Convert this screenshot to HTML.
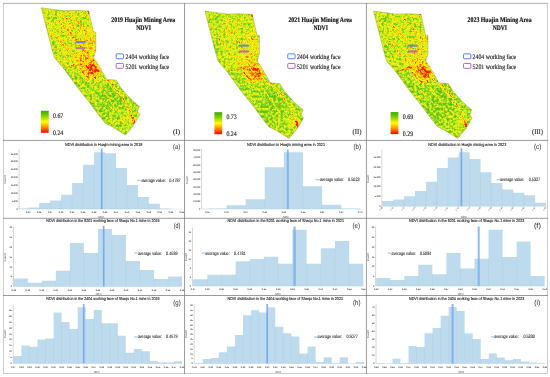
<!DOCTYPE html>
<html lang="en"><head><meta charset="utf-8"><title>NDVI distribution of Huajin mining area</title>
<style>
html,body{margin:0;padding:0;background:#fff;}
body{width:550px;height:377px;overflow:hidden;font-family:"Liberation Sans",sans-serif;}
svg{display:block;}
text{white-space:pre;text-rendering:geometricPrecision;}
</style></head><body>
<svg width="550" height="377" viewBox="0 0 550 377">
<defs>
<linearGradient id="ramp" x1="0" y1="0" x2="0" y2="1">
<stop offset="0" stop-color="#38a800"/><stop offset="0.25" stop-color="#8bd000"/><stop offset="0.5" stop-color="#ffff00"/><stop offset="0.75" stop-color="#ff8c00"/><stop offset="1" stop-color="#ff0000"/>
</linearGradient>
<filter id="bl" x="-50%" y="-50%" width="200%" height="200%"><feGaussianBlur stdDeviation="2.2"/></filter>
<filter id="bl1" x="-50%" y="-50%" width="200%" height="200%"><feGaussianBlur stdDeviation="0.7"/></filter>
<clipPath id="mapclip"><polygon points="41.3,7.7 64,10.7 74.2,10.3 88.8,10.9 90.7,19.8 93.3,31.3 95.8,32.3 95.8,50 93.7,57.7 100.7,68.5 106.5,79.4 116,80 121,88 130,98.2 139.5,106.5 137.5,111.5 140,114.5 133.8,125 125.5,135.2 112.2,126.8 105.4,123.5 99.5,116 88,100.7 77.8,88 63.2,67.9 54.3,57.7 50.8,45"/></clipPath>
<filter id="ndvi0" filterUnits="userSpaceOnUse" x="0" y="0" width="150" height="140" color-interpolation-filters="sRGB">
<feTurbulence type="fractalNoise" baseFrequency="0.4" numOctaves="3" seed="4" result="n"/>
<feColorMatrix in="n" type="matrix" values="1 0 0 0 0  1 0 0 0 0  1 0 0 0 0  0 0 0 0 1" result="ng"/>
<feComposite in="SourceGraphic" in2="ng" operator="arithmetic" k1="0" k2="1" k3="1.2" k4="-0.585" result="v"/>
<feComponentTransfer in="v">
<feFuncR type="table" tableValues="1 1 1 1 1 0.97 0.84 0.68 0.54 0.44 0.38"/>
<feFuncG type="table" tableValues="0.08 0.3 0.52 0.71 0.86 0.96 0.94 0.89 0.83 0.78 0.74"/>
<feFuncB type="table" tableValues="0 0 0 0.02 0.04 0.06 0.1 0.12 0.12 0.1 0.08"/>
<feFuncA type="linear" slope="0" intercept="1"/>
</feComponentTransfer>
</filter>
<g id="map0">
<g clip-path="url(#mapclip)">
<g filter="url(#ndvi0)">
<rect x="0" y="0" width="150" height="140" fill="#909090"/>
<g filter="url(#bl1)">
<polygon points="63.2,67.9 72,66.5 78,65.3 84,67 90.5,72.8 101,68.5 150,68 150,140 60,140" fill="#a8a8a8"/>
</g>
<g filter="url(#bl)">
<ellipse cx="54" cy="16" rx="6" ry="4" fill="#b1b1b1"/>
<ellipse cx="54" cy="46" rx="3.5" ry="9" fill="#acacac"/>
<ellipse cx="111" cy="97" rx="11" ry="14" fill="#c2c2c2" transform="rotate(-35 111 97)"/>
<ellipse cx="100" cy="112" rx="8" ry="10" fill="#bdbdbd" transform="rotate(-35 100 112)"/>
<ellipse cx="80" cy="19" rx="8" ry="4" fill="#a2a2a2" transform="rotate(35 80 19)"/>
<ellipse cx="80" cy="82" rx="7" ry="5" fill="#b5b5b5" transform="rotate(50 80 82)"/>
<ellipse cx="120" cy="122" rx="6" ry="5" fill="#b0b0b0"/>
<ellipse cx="86" cy="58" rx="12" ry="9" fill="#626262"/>
<ellipse cx="90" cy="69" rx="12" ry="8" fill="#666666" transform="rotate(25 90 69)"/>
<ellipse cx="93" cy="68.5" rx="7.5" ry="5.5" fill="#212121" transform="rotate(30 93 68.5)"/>
<ellipse cx="88" cy="44" rx="8" ry="15" fill="#6c6c6c"/>
<ellipse cx="66" cy="30" rx="7" ry="3" fill="#747474" transform="rotate(40 66 30)"/>
<ellipse cx="128" cy="119" rx="8" ry="4" fill="#7d7d7d" transform="rotate(-55 128 119)"/>
<ellipse cx="86" cy="76" rx="6" ry="3" fill="#6b6b6b" transform="rotate(30 86 76)"/>
</g>
<g filter="url(#bl1)" fill="none" stroke-linecap="round" stroke-linejoin="round">
<path d="M96 73 L104 79 L110 81.5 L114 86 L117.5 90.5 L124 100 L129 109 L133 119" stroke="#4a4a4a" stroke-width="1.15"/>
<path d="M133 118 L134 123" stroke="#080808" stroke-width="2.4"/>
<path d="M68 67 L76 64 L83 65 L89 70 L96 67" stroke="#404040" stroke-width="1.30"/>
<path d="M80 69 L85 75 L90 79 M92 74 L96 79" stroke="#303030" stroke-width="1.3"/>
<path d="M88 63 L97 70 M90 66 L95 72 M86 66 L92 73" stroke="#0c0c0c" stroke-width="1.50"/>
<path d="M58 20 L70 32 L78 42 L84 54 L88 62" stroke="#4b4b4b" stroke-width="1.3"/>
<path d="M70 13 L80 24 L88 34 L93 44" stroke="#505050" stroke-width="1.2"/>
<path d="M54 34 L64 46 L72 56 L80 62" stroke="#535353" stroke-width="1.2"/>
<path d="M62 14 L74 26 M76 46 L84 50 L92 52" stroke="#585858" stroke-width="1.1"/>
<path d="M88 11 L89 13" stroke="#000" stroke-width="2"/>
<path d="M100 86 L108 97 L116 110" stroke="#666666" stroke-width="1.1"/>
<path d="M108 82 L118 94" stroke="#616161" stroke-width="1.1"/>
</g>
</g>
</g>
<polygon points="41.3,7.7 64,10.7 74.2,10.3 88.8,10.9 90.7,19.8 93.3,31.3 95.8,32.3 95.8,50 93.7,57.7 100.7,68.5 106.5,79.4 116,80 121,88 130,98.2 139.5,106.5 137.5,111.5 140,114.5 133.8,125 125.5,135.2 112.2,126.8 105.4,123.5 99.5,116 88,100.7 77.8,88 63.2,67.9 54.3,57.7 50.8,45" fill="none" stroke="#6b6b20" stroke-width="0.35" stroke-opacity="0.8"/>
<path d="M63.2 67.9 L72 66.5 L78 65.3 L84 67 L90.5 72.8 L99.5 69" fill="none" stroke="#5a5a10" stroke-width="0.35" stroke-opacity="0.7"/>
<rect x="75.6" y="41.5" width="9.6" height="1.4" rx="0.5" fill="#7f98d0" stroke="#3a66d8" stroke-width="0.5"/>
<rect x="75.6" y="47.4" width="9.6" height="1.4" rx="0.5" fill="#c878b0" stroke="#b048c8" stroke-width="0.5"/>
</g>
<filter id="ndvi1" filterUnits="userSpaceOnUse" x="0" y="0" width="150" height="140" color-interpolation-filters="sRGB">
<feTurbulence type="fractalNoise" baseFrequency="0.4" numOctaves="3" seed="11" result="n"/>
<feColorMatrix in="n" type="matrix" values="1 0 0 0 0  1 0 0 0 0  1 0 0 0 0  0 0 0 0 1" result="ng"/>
<feComposite in="SourceGraphic" in2="ng" operator="arithmetic" k1="0" k2="1" k3="1.02" k4="-0.495" result="v"/>
<feComponentTransfer in="v">
<feFuncR type="table" tableValues="1 1 1 1 1 0.97 0.84 0.68 0.54 0.44 0.38"/>
<feFuncG type="table" tableValues="0.08 0.3 0.52 0.71 0.86 0.96 0.94 0.89 0.83 0.78 0.74"/>
<feFuncB type="table" tableValues="0 0 0 0.02 0.04 0.06 0.1 0.12 0.12 0.1 0.08"/>
<feFuncA type="linear" slope="0" intercept="1"/>
</feComponentTransfer>
</filter>
<g id="map1">
<g clip-path="url(#mapclip)">
<g filter="url(#ndvi1)">
<rect x="0" y="0" width="150" height="140" fill="#9a9a9a"/>
<g filter="url(#bl1)">
<polygon points="63.2,67.9 72,66.5 78,65.3 84,67 90.5,72.8 101,68.5 150,68 150,140 60,140" fill="#adadad"/>
</g>
<g filter="url(#bl)">
<ellipse cx="54" cy="16" rx="6" ry="4" fill="#bbbbbb"/>
<ellipse cx="54" cy="46" rx="3.5" ry="9" fill="#b6b6b6"/>
<ellipse cx="111" cy="97" rx="11" ry="14" fill="#c7c7c7" transform="rotate(-35 111 97)"/>
<ellipse cx="100" cy="112" rx="8" ry="10" fill="#c2c2c2" transform="rotate(-35 100 112)"/>
<ellipse cx="80" cy="19" rx="8" ry="4" fill="#acacac" transform="rotate(35 80 19)"/>
<ellipse cx="80" cy="82" rx="7" ry="5" fill="#bababa" transform="rotate(50 80 82)"/>
<ellipse cx="120" cy="122" rx="6" ry="5" fill="#b5b5b5"/>
<ellipse cx="86" cy="58" rx="12" ry="9" fill="#777777"/>
<ellipse cx="90" cy="69" rx="12" ry="8" fill="#666666" transform="rotate(25 90 69)"/>
<ellipse cx="93" cy="68.5" rx="7.5" ry="5.5" fill="#303030" transform="rotate(30 93 68.5)"/>
<ellipse cx="88" cy="44" rx="8" ry="15" fill="#818181"/>
<ellipse cx="66" cy="30" rx="7" ry="3" fill="#868686" transform="rotate(40 66 30)"/>
<ellipse cx="128" cy="119" rx="8" ry="4" fill="#828282" transform="rotate(-55 128 119)"/>
<ellipse cx="86" cy="76" rx="6" ry="3" fill="#707070" transform="rotate(30 86 76)"/>
</g>
<g filter="url(#bl1)" fill="none" stroke-linecap="round" stroke-linejoin="round">
<path d="M96 73 L104 79 L110 81.5 L114 86 L117.5 90.5 L124 100 L129 109 L133 119" stroke="#4a4a4a" stroke-width="1.15"/>
<path d="M133 118 L134 123" stroke="#080808" stroke-width="2.4"/>
<path d="M68 67 L76 64 L83 65 L89 70 L96 67" stroke="#343434" stroke-width="1.51"/>
<path d="M80 69 L85 75 L90 79 M92 74 L96 79" stroke="#303030" stroke-width="1.3"/>
<path d="M88 63 L97 70 M90 66 L95 72 M86 66 L92 73" stroke="#0c0c0c" stroke-width="1.38"/>
<path d="M58 20 L70 32 L78 42 L84 54 L88 62" stroke="#555555" stroke-width="1.3"/>
<path d="M70 13 L80 24 L88 34 L93 44" stroke="#5b5b5b" stroke-width="1.2"/>
<path d="M54 34 L64 46 L72 56 L80 62" stroke="#5d5d5d" stroke-width="1.2"/>
<path d="M62 14 L74 26 M76 46 L84 50 L92 52" stroke="#626262" stroke-width="1.1"/>
<path d="M88 11 L89 13" stroke="#000" stroke-width="2"/>
<path d="M100 86 L108 97 L116 110" stroke="#6b6b6b" stroke-width="1.1"/>
<path d="M108 82 L118 94" stroke="#666666" stroke-width="1.1"/>
</g>
</g>
</g>
<polygon points="41.3,7.7 64,10.7 74.2,10.3 88.8,10.9 90.7,19.8 93.3,31.3 95.8,32.3 95.8,50 93.7,57.7 100.7,68.5 106.5,79.4 116,80 121,88 130,98.2 139.5,106.5 137.5,111.5 140,114.5 133.8,125 125.5,135.2 112.2,126.8 105.4,123.5 99.5,116 88,100.7 77.8,88 63.2,67.9 54.3,57.7 50.8,45" fill="none" stroke="#6b6b20" stroke-width="0.35" stroke-opacity="0.8"/>
<path d="M63.2 67.9 L72 66.5 L78 65.3 L84 67 L90.5 72.8 L99.5 69" fill="none" stroke="#5a5a10" stroke-width="0.35" stroke-opacity="0.7"/>
<rect x="75.6" y="41.5" width="9.6" height="1.4" rx="0.5" fill="#7f98d0" stroke="#3a66d8" stroke-width="0.5"/>
<rect x="75.6" y="47.4" width="9.6" height="1.4" rx="0.5" fill="#c878b0" stroke="#b048c8" stroke-width="0.5"/>
</g>
<filter id="ndvi2" filterUnits="userSpaceOnUse" x="0" y="0" width="150" height="140" color-interpolation-filters="sRGB">
<feTurbulence type="fractalNoise" baseFrequency="0.4" numOctaves="3" seed="23" result="n"/>
<feColorMatrix in="n" type="matrix" values="1 0 0 0 0  1 0 0 0 0  1 0 0 0 0  0 0 0 0 1" result="ng"/>
<feComposite in="SourceGraphic" in2="ng" operator="arithmetic" k1="0" k2="1" k3="1.12" k4="-0.545" result="v"/>
<feComponentTransfer in="v">
<feFuncR type="table" tableValues="1 1 1 1 1 0.97 0.84 0.68 0.54 0.44 0.38"/>
<feFuncG type="table" tableValues="0.08 0.3 0.52 0.71 0.86 0.96 0.94 0.89 0.83 0.78 0.74"/>
<feFuncB type="table" tableValues="0 0 0 0.02 0.04 0.06 0.1 0.12 0.12 0.1 0.08"/>
<feFuncA type="linear" slope="0" intercept="1"/>
</feComponentTransfer>
</filter>
<g id="map2">
<g clip-path="url(#mapclip)">
<g filter="url(#ndvi2)">
<rect x="0" y="0" width="150" height="140" fill="#999999"/>
<g filter="url(#bl1)">
<polygon points="63.2,67.9 72,66.5 78,65.3 84,67 90.5,72.8 101,68.5 150,68 150,140 60,140" fill="#b0b0b0"/>
</g>
<g filter="url(#bl)">
<ellipse cx="54" cy="16" rx="6" ry="4" fill="#bababa"/>
<ellipse cx="54" cy="46" rx="3.5" ry="9" fill="#b5b5b5"/>
<ellipse cx="111" cy="97" rx="11" ry="14" fill="#c9c9c9" transform="rotate(-35 111 97)"/>
<ellipse cx="100" cy="112" rx="8" ry="10" fill="#c4c4c4" transform="rotate(-35 100 112)"/>
<ellipse cx="80" cy="19" rx="8" ry="4" fill="#ababab" transform="rotate(35 80 19)"/>
<ellipse cx="80" cy="82" rx="7" ry="5" fill="#bdbdbd" transform="rotate(50 80 82)"/>
<ellipse cx="120" cy="122" rx="6" ry="5" fill="#b8b8b8"/>
<ellipse cx="86" cy="58" rx="12" ry="9" fill="#757575"/>
<ellipse cx="90" cy="69" rx="12" ry="8" fill="#666666" transform="rotate(25 90 69)"/>
<ellipse cx="93" cy="68.5" rx="7.5" ry="5.5" fill="#292929" transform="rotate(30 93 68.5)"/>
<ellipse cx="88" cy="44" rx="8" ry="15" fill="#808080"/>
<ellipse cx="66" cy="30" rx="7" ry="3" fill="#858585" transform="rotate(40 66 30)"/>
<ellipse cx="128" cy="119" rx="8" ry="4" fill="#858585" transform="rotate(-55 128 119)"/>
<ellipse cx="86" cy="76" rx="6" ry="3" fill="#737373" transform="rotate(30 86 76)"/>
</g>
<g filter="url(#bl1)" fill="none" stroke-linecap="round" stroke-linejoin="round">
<path d="M96 73 L104 79 L110 81.5 L114 86 L117.5 90.5 L124 100 L129 109 L133 119" stroke="#4a4a4a" stroke-width="1.15"/>
<path d="M133 118 L134 123" stroke="#080808" stroke-width="2.4"/>
<path d="M68 67 L76 64 L83 65 L89 70 L96 67" stroke="#2b2b2b" stroke-width="1.65"/>
<path d="M80 69 L85 75 L90 79 M92 74 L96 79" stroke="#303030" stroke-width="1.3"/>
<path d="M88 63 L97 70 M90 66 L95 72 M86 66 L92 73" stroke="#0c0c0c" stroke-width="1.44"/>
<path d="M58 20 L70 32 L78 42 L84 54 L88 62" stroke="#545454" stroke-width="1.3"/>
<path d="M70 13 L80 24 L88 34 L93 44" stroke="#595959" stroke-width="1.2"/>
<path d="M54 34 L64 46 L72 56 L80 62" stroke="#5c5c5c" stroke-width="1.2"/>
<path d="M62 14 L74 26 M76 46 L84 50 L92 52" stroke="#616161" stroke-width="1.1"/>
<path d="M88 11 L89 13" stroke="#000" stroke-width="2"/>
<path d="M100 86 L108 97 L116 110" stroke="#6e6e6e" stroke-width="1.1"/>
<path d="M108 82 L118 94" stroke="#696969" stroke-width="1.1"/>
</g>
</g>
</g>
<polygon points="41.3,7.7 64,10.7 74.2,10.3 88.8,10.9 90.7,19.8 93.3,31.3 95.8,32.3 95.8,50 93.7,57.7 100.7,68.5 106.5,79.4 116,80 121,88 130,98.2 139.5,106.5 137.5,111.5 140,114.5 133.8,125 125.5,135.2 112.2,126.8 105.4,123.5 99.5,116 88,100.7 77.8,88 63.2,67.9 54.3,57.7 50.8,45" fill="none" stroke="#6b6b20" stroke-width="0.35" stroke-opacity="0.8"/>
<path d="M63.2 67.9 L72 66.5 L78 65.3 L84 67 L90.5 72.8 L99.5 69" fill="none" stroke="#5a5a10" stroke-width="0.35" stroke-opacity="0.7"/>
<rect x="75.6" y="41.5" width="9.6" height="1.4" rx="0.5" fill="#7f98d0" stroke="#3a66d8" stroke-width="0.5"/>
<rect x="75.6" y="47.4" width="9.6" height="1.4" rx="0.5" fill="#c878b0" stroke="#b048c8" stroke-width="0.5"/>
</g>

</defs>
<rect x="0" y="0" width="550" height="377" fill="#fff"/>

<g fill="none">
<rect x="3.4" y="3.4" width="544" height="370" stroke="#c6c6c6" stroke-width="0.9"/>
<line x1="3.4" y1="3.4" x2="547.4" y2="3.4" stroke="#b4b4b4" stroke-width="0.9"/>
<line x1="3" y1="140.4" x2="548" y2="140.4" stroke="#7a7a7a" stroke-width="0.75"/>
<line x1="3" y1="218.3" x2="548" y2="218.3" stroke="#7a7a7a" stroke-width="0.75"/>
<line x1="3" y1="295.5" x2="548" y2="295.5" stroke="#7a7a7a" stroke-width="0.75"/>
<line x1="184.55" y1="3" x2="184.55" y2="374" stroke="#7a7a7a" stroke-width="0.75"/>
<line x1="366.45" y1="3" x2="366.45" y2="374" stroke="#7a7a7a" stroke-width="0.75"/>
</g>
<use href="#map0" x="0" y="0"/>
<text x="111.30" y="21.60" font-size="7.0" font-family="'Liberation Serif', serif" text-anchor="start" fill="#111" stroke="#111" stroke-width="0.18" font-weight="bold" textLength="63.80" lengthAdjust="spacingAndGlyphs" >2019 Huajin Mining Area</text>
<text x="136.20" y="29.80" font-size="7.0" font-family="'Liberation Serif', serif" text-anchor="start" fill="#111" stroke="#111" stroke-width="0.18" font-weight="bold" textLength="14.80" lengthAdjust="spacingAndGlyphs" >NDVI</text>
<rect x="116.15" y="53.85" width="7.3" height="4.9" rx="0.8" fill="none" stroke="#3a6ef0" stroke-width="0.85"/>
<rect x="116.15" y="63.45" width="7.3" height="4.9" rx="0.8" fill="none" stroke="#b83ee0" stroke-width="0.85"/>
<text x="125.60" y="58.70" font-size="6.9" font-family="'Liberation Serif', serif" text-anchor="start" fill="#222" stroke="#222" stroke-width="0.15" textLength="43.60" lengthAdjust="spacingAndGlyphs" >2404 working face</text>
<text x="125.60" y="68.50" font-size="6.9" font-family="'Liberation Serif', serif" text-anchor="start" fill="#222" stroke="#222" stroke-width="0.15" textLength="43.60" lengthAdjust="spacingAndGlyphs" >5201 working face</text>
<rect x="40.90" y="110.80" width="7.8" height="22.0" fill="url(#ramp)"/>
<text x="53.00" y="117.95" font-size="6.9" font-family="'Liberation Serif', serif" text-anchor="start" fill="#222" stroke="#222" stroke-width="0.15" textLength="10.30" lengthAdjust="spacingAndGlyphs" >0.67</text>
<text x="53.00" y="134.70" font-size="6.9" font-family="'Liberation Serif', serif" text-anchor="start" fill="#222" stroke="#222" stroke-width="0.15" textLength="10.30" lengthAdjust="spacingAndGlyphs" >0.24</text>
<text x="173.00" y="134.20" font-size="7.2" font-family="'Liberation Serif', serif" text-anchor="start" fill="#222" stroke="#222" stroke-width="0.12" textLength="7.10" lengthAdjust="spacingAndGlyphs" >(I)</text>
<use href="#map1" x="163.6" y="3.4"/>
<text x="288.40" y="21.60" font-size="7.0" font-family="'Liberation Serif', serif" text-anchor="start" fill="#111" stroke="#111" stroke-width="0.18" font-weight="bold" textLength="63.60" lengthAdjust="spacingAndGlyphs" >2021 Huajin Mining Area</text>
<text x="313.40" y="29.80" font-size="7.0" font-family="'Liberation Serif', serif" text-anchor="start" fill="#111" stroke="#111" stroke-width="0.18" font-weight="bold" textLength="14.50" lengthAdjust="spacingAndGlyphs" >NDVI</text>
<rect x="287.75" y="53.85" width="7.3" height="4.9" rx="0.8" fill="none" stroke="#3a6ef0" stroke-width="0.85"/>
<rect x="287.75" y="63.45" width="7.3" height="4.9" rx="0.8" fill="none" stroke="#b83ee0" stroke-width="0.85"/>
<text x="296.90" y="58.70" font-size="6.9" font-family="'Liberation Serif', serif" text-anchor="start" fill="#222" stroke="#222" stroke-width="0.15" textLength="43.60" lengthAdjust="spacingAndGlyphs" >2404 working face</text>
<text x="296.90" y="68.50" font-size="6.9" font-family="'Liberation Serif', serif" text-anchor="start" fill="#222" stroke="#222" stroke-width="0.15" textLength="43.60" lengthAdjust="spacingAndGlyphs" >5201 working face</text>
<rect x="214.40" y="112.20" width="7.8" height="22.0" fill="url(#ramp)"/>
<text x="226.40" y="119.35" font-size="6.9" font-family="'Liberation Serif', serif" text-anchor="start" fill="#222" stroke="#222" stroke-width="0.15" textLength="10.30" lengthAdjust="spacingAndGlyphs" >0.73</text>
<text x="226.40" y="136.10" font-size="6.9" font-family="'Liberation Serif', serif" text-anchor="start" fill="#222" stroke="#222" stroke-width="0.15" textLength="10.30" lengthAdjust="spacingAndGlyphs" >0.24</text>
<text x="352.50" y="134.20" font-size="7.2" font-family="'Liberation Serif', serif" text-anchor="start" fill="#222" stroke="#222" stroke-width="0.12" textLength="9.00" lengthAdjust="spacingAndGlyphs" >(II)</text>
<use href="#map2" x="332.2" y="3.4"/>
<text x="467.60" y="21.60" font-size="7.0" font-family="'Liberation Serif', serif" text-anchor="start" fill="#111" stroke="#111" stroke-width="0.18" font-weight="bold" textLength="64.00" lengthAdjust="spacingAndGlyphs" >2023 Huajin Mining Area</text>
<text x="492.70" y="29.80" font-size="7.0" font-family="'Liberation Serif', serif" text-anchor="start" fill="#111" stroke="#111" stroke-width="0.18" font-weight="bold" textLength="14.30" lengthAdjust="spacingAndGlyphs" >NDVI</text>
<rect x="463.55" y="53.85" width="7.3" height="4.9" rx="0.8" fill="none" stroke="#3a6ef0" stroke-width="0.85"/>
<rect x="463.55" y="63.45" width="7.3" height="4.9" rx="0.8" fill="none" stroke="#b83ee0" stroke-width="0.85"/>
<text x="472.60" y="58.70" font-size="6.9" font-family="'Liberation Serif', serif" text-anchor="start" fill="#222" stroke="#222" stroke-width="0.15" textLength="43.60" lengthAdjust="spacingAndGlyphs" >2404 working face</text>
<text x="472.60" y="68.50" font-size="6.9" font-family="'Liberation Serif', serif" text-anchor="start" fill="#222" stroke="#222" stroke-width="0.15" textLength="43.60" lengthAdjust="spacingAndGlyphs" >5201 working face</text>
<rect x="390.60" y="112.10" width="7.8" height="22.0" fill="url(#ramp)"/>
<text x="402.80" y="119.25" font-size="6.9" font-family="'Liberation Serif', serif" text-anchor="start" fill="#222" stroke="#222" stroke-width="0.15" textLength="10.30" lengthAdjust="spacingAndGlyphs" >0.69</text>
<text x="402.80" y="136.00" font-size="6.9" font-family="'Liberation Serif', serif" text-anchor="start" fill="#222" stroke="#222" stroke-width="0.15" textLength="10.30" lengthAdjust="spacingAndGlyphs" >0.29</text>
<text x="532.00" y="134.20" font-size="7.2" font-family="'Liberation Serif', serif" text-anchor="start" fill="#222" stroke="#222" stroke-width="0.12" textLength="11.00" lengthAdjust="spacingAndGlyphs" >(III)</text>
<path d="M17.40 209.10 L17.40 208.40 L28.20 208.40 L28.20 207.50 L39.17 207.50 L39.17 203.10 L50.14 203.10 L50.14 200.50 L61.11 200.50 L61.11 194.80 L72.08 194.80 L72.08 183.10 L83.05 183.10 L83.05 164.80 L94.02 164.80 L94.02 152.30 L104.99 152.30 L104.99 153.20 L115.96 153.20 L115.96 168.00 L126.93 168.00 L126.93 185.00 L137.90 185.00 L137.90 196.90 L148.87 196.90 L148.87 203.70 L159.84 203.70 L159.84 208.40 L170.81 208.40 L170.81 209.00 L181.78 209.00 L181.78 209.10 Z" fill="#bddbed"/>
<line x1="28.20" y1="208.40" x2="28.20" y2="209.10" stroke="#a9cbe3" stroke-width="0.35"/>
<line x1="39.17" y1="207.50" x2="39.17" y2="209.10" stroke="#a9cbe3" stroke-width="0.35"/>
<line x1="50.14" y1="203.10" x2="50.14" y2="209.10" stroke="#a9cbe3" stroke-width="0.35"/>
<line x1="61.11" y1="200.50" x2="61.11" y2="209.10" stroke="#a9cbe3" stroke-width="0.35"/>
<line x1="72.08" y1="194.80" x2="72.08" y2="209.10" stroke="#a9cbe3" stroke-width="0.35"/>
<line x1="83.05" y1="183.10" x2="83.05" y2="209.10" stroke="#a9cbe3" stroke-width="0.35"/>
<line x1="94.02" y1="164.80" x2="94.02" y2="209.10" stroke="#a9cbe3" stroke-width="0.35"/>
<line x1="104.99" y1="153.20" x2="104.99" y2="209.10" stroke="#a9cbe3" stroke-width="0.35"/>
<line x1="115.96" y1="168.00" x2="115.96" y2="209.10" stroke="#a9cbe3" stroke-width="0.35"/>
<line x1="126.93" y1="185.00" x2="126.93" y2="209.10" stroke="#a9cbe3" stroke-width="0.35"/>
<line x1="137.90" y1="196.90" x2="137.90" y2="209.10" stroke="#a9cbe3" stroke-width="0.35"/>
<line x1="148.87" y1="203.70" x2="148.87" y2="209.10" stroke="#a9cbe3" stroke-width="0.35"/>
<line x1="159.84" y1="208.40" x2="159.84" y2="209.10" stroke="#a9cbe3" stroke-width="0.35"/>
<line x1="19.10" y1="149.50" x2="19.10" y2="209.10" stroke="#9a9a9a" stroke-width="0.4"/>
<line x1="19.10" y1="209.10" x2="182.08" y2="209.10" stroke="#a9cbe2" stroke-width="0.4"/>
<line x1="101.70" y1="148.60" x2="101.70" y2="209.10" stroke="#6fa6ea" stroke-width="1.6500000000000001" stroke-opacity="0.9"/>
<text x="65.00" y="145.60" font-size="4.2" font-family="'Liberation Sans', sans-serif" text-anchor="start" fill="#2a2a2a" stroke="#2a2a2a" stroke-width="0.13" textLength="77.30" lengthAdjust="spacingAndGlyphs" >NDVI distribution in Huajin mining area in 2019</text>
<text x="173.10" y="149.30" font-size="7.1" font-family="'Liberation Sans', sans-serif" text-anchor="start" fill="#2e2e2e" stroke="#2e2e2e" stroke-width="0.03" textLength="7.10" lengthAdjust="spacingAndGlyphs" >(a)</text>
<line x1="137.20" y1="180.30" x2="141.30" y2="180.30" stroke="#4f8fe2" stroke-width="0.6"/>
<text x="141.40" y="181.70" font-size="4.8" font-family="'Liberation Sans', sans-serif" text-anchor="start" fill="#222" stroke="#222" stroke-width="0.08" textLength="24.40" lengthAdjust="spacingAndGlyphs" >average value:</text>
<text x="169.20" y="181.70" font-size="4.8" font-family="'Liberation Sans', sans-serif" text-anchor="start" fill="#222" stroke="#222" stroke-width="0.08" textLength="11.50" lengthAdjust="spacingAndGlyphs" >0.4787</text>
<text x="17.70" y="209.80" font-size="2.3" font-family="'Liberation Sans', sans-serif" text-anchor="end" fill="#444" stroke="#444" stroke-width="0.04" >0</text>
<text x="17.70" y="201.91" font-size="2.3" font-family="'Liberation Sans', sans-serif" text-anchor="end" fill="#444" stroke="#444" stroke-width="0.04" >5,000</text>
<text x="17.70" y="194.02" font-size="2.3" font-family="'Liberation Sans', sans-serif" text-anchor="end" fill="#444" stroke="#444" stroke-width="0.04" >10,000</text>
<text x="17.70" y="186.13" font-size="2.3" font-family="'Liberation Sans', sans-serif" text-anchor="end" fill="#444" stroke="#444" stroke-width="0.04" >15,000</text>
<text x="17.70" y="178.24" font-size="2.3" font-family="'Liberation Sans', sans-serif" text-anchor="end" fill="#444" stroke="#444" stroke-width="0.04" >20,000</text>
<text x="17.70" y="170.35" font-size="2.3" font-family="'Liberation Sans', sans-serif" text-anchor="end" fill="#444" stroke="#444" stroke-width="0.04" >25,000</text>
<text x="17.70" y="162.46" font-size="2.3" font-family="'Liberation Sans', sans-serif" text-anchor="end" fill="#444" stroke="#444" stroke-width="0.04" >30,000</text>
<text x="17.70" y="154.57" font-size="2.3" font-family="'Liberation Sans', sans-serif" text-anchor="end" fill="#444" stroke="#444" stroke-width="0.04" >35,000</text>
<text x="28.20" y="213.20" font-size="2.3" font-family="'Liberation Sans', sans-serif" text-anchor="middle" fill="#444" stroke="#444" stroke-width="0.04" >0.32</text>
<text x="39.17" y="213.20" font-size="2.3" font-family="'Liberation Sans', sans-serif" text-anchor="middle" fill="#444" stroke="#444" stroke-width="0.04" >0.34</text>
<text x="50.14" y="213.20" font-size="2.3" font-family="'Liberation Sans', sans-serif" text-anchor="middle" fill="#444" stroke="#444" stroke-width="0.04" >0.37</text>
<text x="61.11" y="213.20" font-size="2.3" font-family="'Liberation Sans', sans-serif" text-anchor="middle" fill="#444" stroke="#444" stroke-width="0.04" >0.39</text>
<text x="72.08" y="213.20" font-size="2.3" font-family="'Liberation Sans', sans-serif" text-anchor="middle" fill="#444" stroke="#444" stroke-width="0.04" >0.42</text>
<text x="83.05" y="213.20" font-size="2.3" font-family="'Liberation Sans', sans-serif" text-anchor="middle" fill="#444" stroke="#444" stroke-width="0.04" >0.44</text>
<text x="94.02" y="213.20" font-size="2.3" font-family="'Liberation Sans', sans-serif" text-anchor="middle" fill="#444" stroke="#444" stroke-width="0.04" >0.46</text>
<text x="104.99" y="213.20" font-size="2.3" font-family="'Liberation Sans', sans-serif" text-anchor="middle" fill="#444" stroke="#444" stroke-width="0.04" >0.49</text>
<text x="115.96" y="213.20" font-size="2.3" font-family="'Liberation Sans', sans-serif" text-anchor="middle" fill="#444" stroke="#444" stroke-width="0.04" >0.51</text>
<text x="126.93" y="213.20" font-size="2.3" font-family="'Liberation Sans', sans-serif" text-anchor="middle" fill="#444" stroke="#444" stroke-width="0.04" >0.53</text>
<text x="137.90" y="213.20" font-size="2.3" font-family="'Liberation Sans', sans-serif" text-anchor="middle" fill="#444" stroke="#444" stroke-width="0.04" >0.56</text>
<text x="148.87" y="213.20" font-size="2.3" font-family="'Liberation Sans', sans-serif" text-anchor="middle" fill="#444" stroke="#444" stroke-width="0.04" >0.58</text>
<text x="159.84" y="213.20" font-size="2.3" font-family="'Liberation Sans', sans-serif" text-anchor="middle" fill="#444" stroke="#444" stroke-width="0.04" >0.61</text>
<text x="170.81" y="213.20" font-size="2.3" font-family="'Liberation Sans', sans-serif" text-anchor="middle" fill="#444" stroke="#444" stroke-width="0.04" >0.63</text>
<text x="181.78" y="213.20" font-size="2.3" font-family="'Liberation Sans', sans-serif" text-anchor="middle" fill="#444" stroke="#444" stroke-width="0.04" >0.65</text>
<text transform="translate(6.30,179.50) rotate(-90)" font-size="2.9" font-family="'Liberation Sans', sans-serif" text-anchor="middle" fill="#444" textLength="8.6" lengthAdjust="spacingAndGlyphs">Count</text>
<text x="98.30" y="217.60" font-size="2.9" font-family="'Liberation Sans', sans-serif" text-anchor="start" fill="#444" textLength="5.60" lengthAdjust="spacingAndGlyphs" >NDVI</text>
<path d="M207.40 209.00 L207.40 208.60 L226.52 208.60 L226.52 205.20 L245.64 205.20 L245.64 199.20 L264.76 199.20 L264.76 167.20 L283.88 167.20 L283.88 152.30 L303.00 152.30 L303.00 186.30 L322.12 186.30 L322.12 204.80 L341.24 204.80 L341.24 208.60 L360.36 208.60 L360.36 209.00 Z" fill="#bddbed"/>
<line x1="245.64" y1="205.20" x2="245.64" y2="209.00" stroke="#a9cbe3" stroke-width="0.35"/>
<line x1="264.76" y1="199.20" x2="264.76" y2="209.00" stroke="#a9cbe3" stroke-width="0.35"/>
<line x1="283.88" y1="167.20" x2="283.88" y2="209.00" stroke="#a9cbe3" stroke-width="0.35"/>
<line x1="303.00" y1="186.30" x2="303.00" y2="209.00" stroke="#a9cbe3" stroke-width="0.35"/>
<line x1="322.12" y1="204.80" x2="322.12" y2="209.00" stroke="#a9cbe3" stroke-width="0.35"/>
<line x1="201.60" y1="148.90" x2="201.60" y2="209.00" stroke="#9a9a9a" stroke-width="0.4"/>
<line x1="201.60" y1="209.00" x2="360.66" y2="209.00" stroke="#a9cbe2" stroke-width="0.4"/>
<line x1="287.80" y1="149.50" x2="287.80" y2="209.00" stroke="#6fa6ea" stroke-width="2.05" stroke-opacity="0.74"/>
<text x="247.00" y="145.60" font-size="4.2" font-family="'Liberation Sans', sans-serif" text-anchor="start" fill="#2a2a2a" stroke="#2a2a2a" stroke-width="0.13" textLength="78.00" lengthAdjust="spacingAndGlyphs" >NDVI distribution in Huajin mining area in 2021</text>
<text x="353.60" y="149.30" font-size="7.1" font-family="'Liberation Sans', sans-serif" text-anchor="start" fill="#2e2e2e" stroke="#2e2e2e" stroke-width="0.03" textLength="7.40" lengthAdjust="spacingAndGlyphs" >(b)</text>
<line x1="315.40" y1="179.70" x2="319.60" y2="179.70" stroke="#4f8fe2" stroke-width="0.6"/>
<text x="319.70" y="181.10" font-size="4.8" font-family="'Liberation Sans', sans-serif" text-anchor="start" fill="#222" stroke="#222" stroke-width="0.08" textLength="24.40" lengthAdjust="spacingAndGlyphs" >average value:</text>
<text x="348.10" y="181.10" font-size="4.8" font-family="'Liberation Sans', sans-serif" text-anchor="start" fill="#222" stroke="#222" stroke-width="0.08" textLength="11.50" lengthAdjust="spacingAndGlyphs" >0.5023</text>
<text x="200.20" y="209.60" font-size="2.3" font-family="'Liberation Sans', sans-serif" text-anchor="end" fill="#444" stroke="#444" stroke-width="0.04" >0</text>
<text x="200.20" y="202.25" font-size="2.3" font-family="'Liberation Sans', sans-serif" text-anchor="end" fill="#444" stroke="#444" stroke-width="0.04" >10,000</text>
<text x="200.20" y="194.90" font-size="2.3" font-family="'Liberation Sans', sans-serif" text-anchor="end" fill="#444" stroke="#444" stroke-width="0.04" >20,000</text>
<text x="200.20" y="187.55" font-size="2.3" font-family="'Liberation Sans', sans-serif" text-anchor="end" fill="#444" stroke="#444" stroke-width="0.04" >30,000</text>
<text x="200.20" y="180.20" font-size="2.3" font-family="'Liberation Sans', sans-serif" text-anchor="end" fill="#444" stroke="#444" stroke-width="0.04" >40,000</text>
<text x="200.20" y="172.85" font-size="2.3" font-family="'Liberation Sans', sans-serif" text-anchor="end" fill="#444" stroke="#444" stroke-width="0.04" >50,000</text>
<text x="200.20" y="165.50" font-size="2.3" font-family="'Liberation Sans', sans-serif" text-anchor="end" fill="#444" stroke="#444" stroke-width="0.04" >60,000</text>
<text x="200.20" y="158.15" font-size="2.3" font-family="'Liberation Sans', sans-serif" text-anchor="end" fill="#444" stroke="#444" stroke-width="0.04" >70,000</text>
<text x="200.20" y="150.80" font-size="2.3" font-family="'Liberation Sans', sans-serif" text-anchor="end" fill="#444" stroke="#444" stroke-width="0.04" >80,000</text>
<text x="207.40" y="213.10" font-size="2.3" font-family="'Liberation Sans', sans-serif" text-anchor="middle" fill="#444" stroke="#444" stroke-width="0.04" >0.25</text>
<text x="226.52" y="213.10" font-size="2.3" font-family="'Liberation Sans', sans-serif" text-anchor="middle" fill="#444" stroke="#444" stroke-width="0.04" >0.31</text>
<text x="245.64" y="213.10" font-size="2.3" font-family="'Liberation Sans', sans-serif" text-anchor="middle" fill="#444" stroke="#444" stroke-width="0.04" >0.37</text>
<text x="264.76" y="213.10" font-size="2.3" font-family="'Liberation Sans', sans-serif" text-anchor="middle" fill="#444" stroke="#444" stroke-width="0.04" >0.43</text>
<text x="283.88" y="213.10" font-size="2.3" font-family="'Liberation Sans', sans-serif" text-anchor="middle" fill="#444" stroke="#444" stroke-width="0.04" >0.49</text>
<text x="303.00" y="213.10" font-size="2.3" font-family="'Liberation Sans', sans-serif" text-anchor="middle" fill="#444" stroke="#444" stroke-width="0.04" >0.55</text>
<text x="322.12" y="213.10" font-size="2.3" font-family="'Liberation Sans', sans-serif" text-anchor="middle" fill="#444" stroke="#444" stroke-width="0.04" >0.61</text>
<text x="341.24" y="213.10" font-size="2.3" font-family="'Liberation Sans', sans-serif" text-anchor="middle" fill="#444" stroke="#444" stroke-width="0.04" >0.67</text>
<text x="360.36" y="213.10" font-size="2.3" font-family="'Liberation Sans', sans-serif" text-anchor="middle" fill="#444" stroke="#444" stroke-width="0.04" >0.73</text>
<text transform="translate(187.60,180.00) rotate(-90)" font-size="2.9" font-family="'Liberation Sans', sans-serif" text-anchor="middle" fill="#444" textLength="8.6" lengthAdjust="spacingAndGlyphs">Count</text>
<text x="283.20" y="217.60" font-size="2.9" font-family="'Liberation Sans', sans-serif" text-anchor="start" fill="#444" textLength="5.60" lengthAdjust="spacingAndGlyphs" >NDVI</text>
<path d="M382.30 206.20 L382.30 200.90 L393.22 200.90 L393.22 199.40 L404.13 199.40 L404.13 196.30 L415.05 196.30 L415.05 191.00 L425.96 191.00 L425.96 181.80 L436.88 181.80 L436.88 168.00 L447.79 168.00 L447.79 157.60 L458.71 157.60 L458.71 152.30 L469.62 152.30 L469.62 159.10 L480.53 159.10 L480.53 172.30 L491.45 172.30 L491.45 183.10 L502.37 183.10 L502.37 189.50 L513.28 189.50 L513.28 192.70 L524.19 192.70 L524.19 195.20 L535.11 195.20 L535.11 202.80 L546.02 202.80 L546.02 206.20 Z" fill="#bddbed"/>
<line x1="393.22" y1="200.90" x2="393.22" y2="206.20" stroke="#a9cbe3" stroke-width="0.35"/>
<line x1="404.13" y1="199.40" x2="404.13" y2="206.20" stroke="#a9cbe3" stroke-width="0.35"/>
<line x1="415.05" y1="196.30" x2="415.05" y2="206.20" stroke="#a9cbe3" stroke-width="0.35"/>
<line x1="425.96" y1="191.00" x2="425.96" y2="206.20" stroke="#a9cbe3" stroke-width="0.35"/>
<line x1="436.88" y1="181.80" x2="436.88" y2="206.20" stroke="#a9cbe3" stroke-width="0.35"/>
<line x1="447.79" y1="168.00" x2="447.79" y2="206.20" stroke="#a9cbe3" stroke-width="0.35"/>
<line x1="458.71" y1="157.60" x2="458.71" y2="206.20" stroke="#a9cbe3" stroke-width="0.35"/>
<line x1="469.62" y1="159.10" x2="469.62" y2="206.20" stroke="#a9cbe3" stroke-width="0.35"/>
<line x1="480.53" y1="172.30" x2="480.53" y2="206.20" stroke="#a9cbe3" stroke-width="0.35"/>
<line x1="491.45" y1="183.10" x2="491.45" y2="206.20" stroke="#a9cbe3" stroke-width="0.35"/>
<line x1="502.37" y1="189.50" x2="502.37" y2="206.20" stroke="#a9cbe3" stroke-width="0.35"/>
<line x1="513.28" y1="192.70" x2="513.28" y2="206.20" stroke="#a9cbe3" stroke-width="0.35"/>
<line x1="524.19" y1="195.20" x2="524.19" y2="206.20" stroke="#a9cbe3" stroke-width="0.35"/>
<line x1="535.11" y1="202.80" x2="535.11" y2="206.20" stroke="#a9cbe3" stroke-width="0.35"/>
<line x1="381.90" y1="149.50" x2="381.90" y2="206.20" stroke="#9a9a9a" stroke-width="0.4"/>
<line x1="381.90" y1="206.20" x2="546.32" y2="206.20" stroke="#a9cbe2" stroke-width="0.4"/>
<line x1="461.40" y1="148.50" x2="461.40" y2="206.20" stroke="#6fa6ea" stroke-width="1.6500000000000001" stroke-opacity="0.9"/>
<text x="428.20" y="145.60" font-size="4.2" font-family="'Liberation Sans', sans-serif" text-anchor="start" fill="#2a2a2a" stroke="#2a2a2a" stroke-width="0.13" textLength="78.10" lengthAdjust="spacingAndGlyphs" >NDVI distribution in Huajin mining area in 2023</text>
<text x="533.90" y="149.30" font-size="7.1" font-family="'Liberation Sans', sans-serif" text-anchor="start" fill="#2e2e2e" stroke="#2e2e2e" stroke-width="0.03" textLength="7.40" lengthAdjust="spacingAndGlyphs" >(c)</text>
<line x1="496.70" y1="179.70" x2="499.90" y2="179.70" stroke="#4f8fe2" stroke-width="0.6"/>
<text x="500.00" y="181.10" font-size="4.8" font-family="'Liberation Sans', sans-serif" text-anchor="start" fill="#222" stroke="#222" stroke-width="0.08" textLength="24.40" lengthAdjust="spacingAndGlyphs" >average value:</text>
<text x="528.70" y="181.10" font-size="4.8" font-family="'Liberation Sans', sans-serif" text-anchor="start" fill="#222" stroke="#222" stroke-width="0.08" textLength="11.50" lengthAdjust="spacingAndGlyphs" >0.5327</text>
<text x="380.50" y="207.00" font-size="2.3" font-family="'Liberation Sans', sans-serif" text-anchor="end" fill="#444" stroke="#444" stroke-width="0.04" >0</text>
<text x="380.50" y="197.23" font-size="2.3" font-family="'Liberation Sans', sans-serif" text-anchor="end" fill="#444" stroke="#444" stroke-width="0.04" >5,000</text>
<text x="380.50" y="187.46" font-size="2.3" font-family="'Liberation Sans', sans-serif" text-anchor="end" fill="#444" stroke="#444" stroke-width="0.04" >10,000</text>
<text x="380.50" y="177.69" font-size="2.3" font-family="'Liberation Sans', sans-serif" text-anchor="end" fill="#444" stroke="#444" stroke-width="0.04" >15,000</text>
<text x="380.50" y="167.92" font-size="2.3" font-family="'Liberation Sans', sans-serif" text-anchor="end" fill="#444" stroke="#444" stroke-width="0.04" >20,000</text>
<text x="380.50" y="158.15" font-size="2.3" font-family="'Liberation Sans', sans-serif" text-anchor="end" fill="#444" stroke="#444" stroke-width="0.04" >25,000</text>
<text transform="translate(382.90,207.50) rotate(-50)" font-size="2.2" font-family="'Liberation Sans', sans-serif" text-anchor="end" fill="#555">0.38</text>
<text transform="translate(393.82,207.50) rotate(-50)" font-size="2.2" font-family="'Liberation Sans', sans-serif" text-anchor="end" fill="#555">0.40</text>
<text transform="translate(404.73,207.50) rotate(-50)" font-size="2.2" font-family="'Liberation Sans', sans-serif" text-anchor="end" fill="#555">0.42</text>
<text transform="translate(415.65,207.50) rotate(-50)" font-size="2.2" font-family="'Liberation Sans', sans-serif" text-anchor="end" fill="#555">0.44</text>
<text transform="translate(426.56,207.50) rotate(-50)" font-size="2.2" font-family="'Liberation Sans', sans-serif" text-anchor="end" fill="#555">0.46</text>
<text transform="translate(437.48,207.50) rotate(-50)" font-size="2.2" font-family="'Liberation Sans', sans-serif" text-anchor="end" fill="#555">0.48</text>
<text transform="translate(448.39,207.50) rotate(-50)" font-size="2.2" font-family="'Liberation Sans', sans-serif" text-anchor="end" fill="#555">0.50</text>
<text transform="translate(459.31,207.50) rotate(-50)" font-size="2.2" font-family="'Liberation Sans', sans-serif" text-anchor="end" fill="#555">0.52</text>
<text transform="translate(470.22,207.50) rotate(-50)" font-size="2.2" font-family="'Liberation Sans', sans-serif" text-anchor="end" fill="#555">0.54</text>
<text transform="translate(481.13,207.50) rotate(-50)" font-size="2.2" font-family="'Liberation Sans', sans-serif" text-anchor="end" fill="#555">0.56</text>
<text transform="translate(492.05,207.50) rotate(-50)" font-size="2.2" font-family="'Liberation Sans', sans-serif" text-anchor="end" fill="#555">0.58</text>
<text transform="translate(502.97,207.50) rotate(-50)" font-size="2.2" font-family="'Liberation Sans', sans-serif" text-anchor="end" fill="#555">0.61</text>
<text transform="translate(513.88,207.50) rotate(-50)" font-size="2.2" font-family="'Liberation Sans', sans-serif" text-anchor="end" fill="#555">0.63</text>
<text transform="translate(524.79,207.50) rotate(-50)" font-size="2.2" font-family="'Liberation Sans', sans-serif" text-anchor="end" fill="#555">0.65</text>
<text transform="translate(535.71,207.50) rotate(-50)" font-size="2.2" font-family="'Liberation Sans', sans-serif" text-anchor="end" fill="#555">0.67</text>
<text transform="translate(546.62,207.50) rotate(-50)" font-size="2.2" font-family="'Liberation Sans', sans-serif" text-anchor="end" fill="#555">0.69</text>
<text transform="translate(368.80,179.00) rotate(-90)" font-size="2.9" font-family="'Liberation Sans', sans-serif" text-anchor="middle" fill="#444" textLength="8.6" lengthAdjust="spacingAndGlyphs">Count</text>
<text x="461.00" y="217.60" font-size="2.9" font-family="'Liberation Sans', sans-serif" text-anchor="start" fill="#444" textLength="5.60" lengthAdjust="spacingAndGlyphs" >NDVI</text>
<path d="M13.80 286.60 L13.80 278.60 L27.82 278.60 L27.82 282.80 L41.84 282.80 L41.84 280.70 L55.86 280.70 L55.86 270.70 L69.88 270.70 L69.88 243.10 L83.90 243.10 L83.90 253.10 L97.92 253.10 L97.92 229.10 L111.94 229.10 L111.94 235.00 L125.96 235.00 L125.96 261.00 L139.98 261.00 L139.98 270.10 L154.00 270.10 L154.00 279.00 L168.02 279.00 L168.02 276.40 L182.04 276.40 L182.04 286.60 Z" fill="#bddbed"/>
<line x1="27.82" y1="282.80" x2="27.82" y2="286.60" stroke="#a9cbe3" stroke-width="0.35"/>
<line x1="41.84" y1="282.80" x2="41.84" y2="286.60" stroke="#a9cbe3" stroke-width="0.35"/>
<line x1="55.86" y1="280.70" x2="55.86" y2="286.60" stroke="#a9cbe3" stroke-width="0.35"/>
<line x1="69.88" y1="270.70" x2="69.88" y2="286.60" stroke="#a9cbe3" stroke-width="0.35"/>
<line x1="83.90" y1="253.10" x2="83.90" y2="286.60" stroke="#a9cbe3" stroke-width="0.35"/>
<line x1="97.92" y1="253.10" x2="97.92" y2="286.60" stroke="#a9cbe3" stroke-width="0.35"/>
<line x1="111.94" y1="235.00" x2="111.94" y2="286.60" stroke="#a9cbe3" stroke-width="0.35"/>
<line x1="125.96" y1="261.00" x2="125.96" y2="286.60" stroke="#a9cbe3" stroke-width="0.35"/>
<line x1="139.98" y1="270.10" x2="139.98" y2="286.60" stroke="#a9cbe3" stroke-width="0.35"/>
<line x1="154.00" y1="279.00" x2="154.00" y2="286.60" stroke="#a9cbe3" stroke-width="0.35"/>
<line x1="168.02" y1="279.00" x2="168.02" y2="286.60" stroke="#a9cbe3" stroke-width="0.35"/>
<line x1="13.40" y1="226.60" x2="13.40" y2="286.60" stroke="#9a9a9a" stroke-width="0.4"/>
<line x1="13.40" y1="286.60" x2="182.34" y2="286.60" stroke="#a9cbe2" stroke-width="0.4"/>
<line x1="103.70" y1="225.90" x2="103.70" y2="286.60" stroke="#6fa6ea" stroke-width="1.6500000000000001" stroke-opacity="0.9"/>
<text x="46.30" y="221.70" font-size="4.2" font-family="'Liberation Sans', sans-serif" text-anchor="start" fill="#2a2a2a" stroke="#2a2a2a" stroke-width="0.13" textLength="113.20" lengthAdjust="spacingAndGlyphs" >NDVI distribution in the 5201 working face of Shaqu No.1 mine in 2019</text>
<text x="173.70" y="227.60" font-size="7.1" font-family="'Liberation Sans', sans-serif" text-anchor="start" fill="#2e2e2e" stroke="#2e2e2e" stroke-width="0.03" textLength="6.60" lengthAdjust="spacingAndGlyphs" >(d)</text>
<line x1="134.00" y1="253.10" x2="137.60" y2="253.10" stroke="#4f8fe2" stroke-width="0.6"/>
<text x="137.70" y="254.50" font-size="4.8" font-family="'Liberation Sans', sans-serif" text-anchor="start" fill="#222" stroke="#222" stroke-width="0.08" textLength="24.40" lengthAdjust="spacingAndGlyphs" >average value:</text>
<text x="166.10" y="254.50" font-size="4.8" font-family="'Liberation Sans', sans-serif" text-anchor="start" fill="#222" stroke="#222" stroke-width="0.08" textLength="11.50" lengthAdjust="spacingAndGlyphs" >0.4589</text>
<text x="12.00" y="287.40" font-size="2.3" font-family="'Liberation Sans', sans-serif" text-anchor="end" fill="#444" stroke="#444" stroke-width="0.04" >0</text>
<text x="12.00" y="277.47" font-size="2.3" font-family="'Liberation Sans', sans-serif" text-anchor="end" fill="#444" stroke="#444" stroke-width="0.04" >5</text>
<text x="12.00" y="267.54" font-size="2.3" font-family="'Liberation Sans', sans-serif" text-anchor="end" fill="#444" stroke="#444" stroke-width="0.04" >10</text>
<text x="12.00" y="257.61" font-size="2.3" font-family="'Liberation Sans', sans-serif" text-anchor="end" fill="#444" stroke="#444" stroke-width="0.04" >15</text>
<text x="12.00" y="247.68" font-size="2.3" font-family="'Liberation Sans', sans-serif" text-anchor="end" fill="#444" stroke="#444" stroke-width="0.04" >20</text>
<text x="12.00" y="237.75" font-size="2.3" font-family="'Liberation Sans', sans-serif" text-anchor="end" fill="#444" stroke="#444" stroke-width="0.04" >25</text>
<text x="12.00" y="227.82" font-size="2.3" font-family="'Liberation Sans', sans-serif" text-anchor="end" fill="#444" stroke="#444" stroke-width="0.04" >30</text>
<text x="13.80" y="291.00" font-size="2.3" font-family="'Liberation Sans', sans-serif" text-anchor="middle" fill="#444" stroke="#444" stroke-width="0.04" >0.36</text>
<text x="27.82" y="291.00" font-size="2.3" font-family="'Liberation Sans', sans-serif" text-anchor="middle" fill="#444" stroke="#444" stroke-width="0.04" >0.38</text>
<text x="41.84" y="291.00" font-size="2.3" font-family="'Liberation Sans', sans-serif" text-anchor="middle" fill="#444" stroke="#444" stroke-width="0.04" >0.39</text>
<text x="55.86" y="291.00" font-size="2.3" font-family="'Liberation Sans', sans-serif" text-anchor="middle" fill="#444" stroke="#444" stroke-width="0.04" >0.41</text>
<text x="69.88" y="291.00" font-size="2.3" font-family="'Liberation Sans', sans-serif" text-anchor="middle" fill="#444" stroke="#444" stroke-width="0.04" >0.43</text>
<text x="83.90" y="291.00" font-size="2.3" font-family="'Liberation Sans', sans-serif" text-anchor="middle" fill="#444" stroke="#444" stroke-width="0.04" >0.44</text>
<text x="97.92" y="291.00" font-size="2.3" font-family="'Liberation Sans', sans-serif" text-anchor="middle" fill="#444" stroke="#444" stroke-width="0.04" >0.46</text>
<text x="111.94" y="291.00" font-size="2.3" font-family="'Liberation Sans', sans-serif" text-anchor="middle" fill="#444" stroke="#444" stroke-width="0.04" >0.48</text>
<text x="125.96" y="291.00" font-size="2.3" font-family="'Liberation Sans', sans-serif" text-anchor="middle" fill="#444" stroke="#444" stroke-width="0.04" >0.49</text>
<text x="139.98" y="291.00" font-size="2.3" font-family="'Liberation Sans', sans-serif" text-anchor="middle" fill="#444" stroke="#444" stroke-width="0.04" >0.51</text>
<text x="154.00" y="291.00" font-size="2.3" font-family="'Liberation Sans', sans-serif" text-anchor="middle" fill="#444" stroke="#444" stroke-width="0.04" >0.53</text>
<text x="168.02" y="291.00" font-size="2.3" font-family="'Liberation Sans', sans-serif" text-anchor="middle" fill="#444" stroke="#444" stroke-width="0.04" >0.54</text>
<text x="182.04" y="291.00" font-size="2.3" font-family="'Liberation Sans', sans-serif" text-anchor="middle" fill="#444" stroke="#444" stroke-width="0.04" >0.56</text>
<text transform="translate(6.30,257.30) rotate(-90)" font-size="2.9" font-family="'Liberation Sans', sans-serif" text-anchor="middle" fill="#444" textLength="8.6" lengthAdjust="spacingAndGlyphs">Count</text>
<text x="95.80" y="295.10" font-size="2.9" font-family="'Liberation Sans', sans-serif" text-anchor="start" fill="#444" textLength="5.60" lengthAdjust="spacingAndGlyphs" >NDVI</text>
<path d="M193.10 286.00 L193.10 279.20 L207.29 279.20 L207.29 274.70 L221.48 274.70 L221.48 274.70 L235.67 274.70 L235.67 261.20 L249.86 261.20 L249.86 259.00 L264.05 259.00 L264.05 256.70 L278.24 256.70 L278.24 263.70 L292.43 263.70 L292.43 229.70 L306.62 229.70 L306.62 263.70 L320.81 263.70 L320.81 248.20 L335.00 248.20 L335.00 241.00 L349.19 241.00 L349.19 263.70 L363.38 263.70 L363.38 286.00 Z" fill="#bddbed"/>
<line x1="207.29" y1="279.20" x2="207.29" y2="286.00" stroke="#a9cbe3" stroke-width="0.35"/>
<line x1="221.48" y1="274.70" x2="221.48" y2="286.00" stroke="#a9cbe3" stroke-width="0.35"/>
<line x1="235.67" y1="274.70" x2="235.67" y2="286.00" stroke="#a9cbe3" stroke-width="0.35"/>
<line x1="249.86" y1="261.20" x2="249.86" y2="286.00" stroke="#a9cbe3" stroke-width="0.35"/>
<line x1="264.05" y1="259.00" x2="264.05" y2="286.00" stroke="#a9cbe3" stroke-width="0.35"/>
<line x1="278.24" y1="263.70" x2="278.24" y2="286.00" stroke="#a9cbe3" stroke-width="0.35"/>
<line x1="292.43" y1="263.70" x2="292.43" y2="286.00" stroke="#a9cbe3" stroke-width="0.35"/>
<line x1="306.62" y1="263.70" x2="306.62" y2="286.00" stroke="#a9cbe3" stroke-width="0.35"/>
<line x1="320.81" y1="263.70" x2="320.81" y2="286.00" stroke="#a9cbe3" stroke-width="0.35"/>
<line x1="335.00" y1="248.20" x2="335.00" y2="286.00" stroke="#a9cbe3" stroke-width="0.35"/>
<line x1="349.19" y1="263.70" x2="349.19" y2="286.00" stroke="#a9cbe3" stroke-width="0.35"/>
<line x1="192.50" y1="227.60" x2="192.50" y2="286.00" stroke="#9a9a9a" stroke-width="0.4"/>
<line x1="192.50" y1="286.00" x2="363.68" y2="286.00" stroke="#a9cbe2" stroke-width="0.4"/>
<line x1="294.60" y1="226.60" x2="294.60" y2="286.00" stroke="#6fa6ea" stroke-width="2.35" stroke-opacity="0.74"/>
<text x="227.50" y="221.70" font-size="4.2" font-family="'Liberation Sans', sans-serif" text-anchor="start" fill="#2a2a2a" stroke="#2a2a2a" stroke-width="0.13" textLength="116.50" lengthAdjust="spacingAndGlyphs" >NDVI distribution in the 5201 working face of Shaqu No.1 mine in 2021</text>
<text x="352.60" y="227.60" font-size="7.1" font-family="'Liberation Sans', sans-serif" text-anchor="start" fill="#2e2e2e" stroke="#2e2e2e" stroke-width="0.03" textLength="7.40" lengthAdjust="spacingAndGlyphs" >(e)</text>
<line x1="201.40" y1="253.10" x2="205.20" y2="253.10" stroke="#4f8fe2" stroke-width="0.6"/>
<text x="205.30" y="254.50" font-size="4.8" font-family="'Liberation Sans', sans-serif" text-anchor="start" fill="#222" stroke="#222" stroke-width="0.08" textLength="24.40" lengthAdjust="spacingAndGlyphs" >average value:</text>
<text x="234.10" y="254.50" font-size="4.8" font-family="'Liberation Sans', sans-serif" text-anchor="start" fill="#222" stroke="#222" stroke-width="0.08" textLength="11.50" lengthAdjust="spacingAndGlyphs" >0.4781</text>
<text x="191.10" y="286.80" font-size="2.3" font-family="'Liberation Sans', sans-serif" text-anchor="end" fill="#444" stroke="#444" stroke-width="0.04" >0</text>
<text x="191.10" y="277.78" font-size="2.3" font-family="'Liberation Sans', sans-serif" text-anchor="end" fill="#444" stroke="#444" stroke-width="0.04" >4</text>
<text x="191.10" y="268.76" font-size="2.3" font-family="'Liberation Sans', sans-serif" text-anchor="end" fill="#444" stroke="#444" stroke-width="0.04" >8</text>
<text x="191.10" y="259.74" font-size="2.3" font-family="'Liberation Sans', sans-serif" text-anchor="end" fill="#444" stroke="#444" stroke-width="0.04" >12</text>
<text x="191.10" y="250.72" font-size="2.3" font-family="'Liberation Sans', sans-serif" text-anchor="end" fill="#444" stroke="#444" stroke-width="0.04" >16</text>
<text x="191.10" y="241.70" font-size="2.3" font-family="'Liberation Sans', sans-serif" text-anchor="end" fill="#444" stroke="#444" stroke-width="0.04" >20</text>
<text x="191.10" y="232.68" font-size="2.3" font-family="'Liberation Sans', sans-serif" text-anchor="end" fill="#444" stroke="#444" stroke-width="0.04" >24</text>
<text x="193.10" y="290.40" font-size="2.3" font-family="'Liberation Sans', sans-serif" text-anchor="middle" fill="#444" stroke="#444" stroke-width="0.04" >0.37</text>
<text x="207.29" y="290.40" font-size="2.3" font-family="'Liberation Sans', sans-serif" text-anchor="middle" fill="#444" stroke="#444" stroke-width="0.04" >0.39</text>
<text x="221.48" y="290.40" font-size="2.3" font-family="'Liberation Sans', sans-serif" text-anchor="middle" fill="#444" stroke="#444" stroke-width="0.04" >0.40</text>
<text x="235.67" y="290.40" font-size="2.3" font-family="'Liberation Sans', sans-serif" text-anchor="middle" fill="#444" stroke="#444" stroke-width="0.04" >0.42</text>
<text x="249.86" y="290.40" font-size="2.3" font-family="'Liberation Sans', sans-serif" text-anchor="middle" fill="#444" stroke="#444" stroke-width="0.04" >0.43</text>
<text x="264.05" y="290.40" font-size="2.3" font-family="'Liberation Sans', sans-serif" text-anchor="middle" fill="#444" stroke="#444" stroke-width="0.04" >0.45</text>
<text x="278.24" y="290.40" font-size="2.3" font-family="'Liberation Sans', sans-serif" text-anchor="middle" fill="#444" stroke="#444" stroke-width="0.04" >0.46</text>
<text x="292.43" y="290.40" font-size="2.3" font-family="'Liberation Sans', sans-serif" text-anchor="middle" fill="#444" stroke="#444" stroke-width="0.04" >0.48</text>
<text x="306.62" y="290.40" font-size="2.3" font-family="'Liberation Sans', sans-serif" text-anchor="middle" fill="#444" stroke="#444" stroke-width="0.04" >0.49</text>
<text x="320.81" y="290.40" font-size="2.3" font-family="'Liberation Sans', sans-serif" text-anchor="middle" fill="#444" stroke="#444" stroke-width="0.04" >0.51</text>
<text x="335.00" y="290.40" font-size="2.3" font-family="'Liberation Sans', sans-serif" text-anchor="middle" fill="#444" stroke="#444" stroke-width="0.04" >0.52</text>
<text x="349.19" y="290.40" font-size="2.3" font-family="'Liberation Sans', sans-serif" text-anchor="middle" fill="#444" stroke="#444" stroke-width="0.04" >0.54</text>
<text x="363.38" y="290.40" font-size="2.3" font-family="'Liberation Sans', sans-serif" text-anchor="middle" fill="#444" stroke="#444" stroke-width="0.04" >0.55</text>
<text transform="translate(187.40,257.00) rotate(-90)" font-size="2.9" font-family="'Liberation Sans', sans-serif" text-anchor="middle" fill="#444" textLength="8.6" lengthAdjust="spacingAndGlyphs">Count</text>
<text x="275.20" y="295.10" font-size="2.9" font-family="'Liberation Sans', sans-serif" text-anchor="start" fill="#444" textLength="5.60" lengthAdjust="spacingAndGlyphs" >NDVI</text>
<path d="M376.20 286.00 L376.20 278.10 L390.24 278.10 L390.24 280.10 L404.28 280.10 L404.28 276.00 L418.32 276.00 L418.32 264.80 L432.36 264.80 L432.36 274.30 L446.40 274.30 L446.40 253.10 L460.44 253.10 L460.44 268.60 L474.48 268.60 L474.48 258.80 L488.52 258.80 L488.52 229.70 L502.56 229.70 L502.56 256.90 L516.60 256.90 L516.60 241.40 L530.64 241.40 L530.64 276.00 L544.68 276.00 L544.68 286.00 Z" fill="#bddbed"/>
<line x1="390.24" y1="280.10" x2="390.24" y2="286.00" stroke="#a9cbe3" stroke-width="0.35"/>
<line x1="404.28" y1="280.10" x2="404.28" y2="286.00" stroke="#a9cbe3" stroke-width="0.35"/>
<line x1="418.32" y1="276.00" x2="418.32" y2="286.00" stroke="#a9cbe3" stroke-width="0.35"/>
<line x1="432.36" y1="274.30" x2="432.36" y2="286.00" stroke="#a9cbe3" stroke-width="0.35"/>
<line x1="446.40" y1="274.30" x2="446.40" y2="286.00" stroke="#a9cbe3" stroke-width="0.35"/>
<line x1="460.44" y1="268.60" x2="460.44" y2="286.00" stroke="#a9cbe3" stroke-width="0.35"/>
<line x1="474.48" y1="268.60" x2="474.48" y2="286.00" stroke="#a9cbe3" stroke-width="0.35"/>
<line x1="488.52" y1="258.80" x2="488.52" y2="286.00" stroke="#a9cbe3" stroke-width="0.35"/>
<line x1="502.56" y1="256.90" x2="502.56" y2="286.00" stroke="#a9cbe3" stroke-width="0.35"/>
<line x1="516.60" y1="256.90" x2="516.60" y2="286.00" stroke="#a9cbe3" stroke-width="0.35"/>
<line x1="530.64" y1="276.00" x2="530.64" y2="286.00" stroke="#a9cbe3" stroke-width="0.35"/>
<line x1="375.60" y1="226.60" x2="375.60" y2="286.00" stroke="#9a9a9a" stroke-width="0.4"/>
<line x1="375.60" y1="286.00" x2="544.98" y2="286.00" stroke="#a9cbe2" stroke-width="0.4"/>
<line x1="478.70" y1="226.60" x2="478.70" y2="286.00" stroke="#6fa6ea" stroke-width="2.05" stroke-opacity="0.74"/>
<text x="409.00" y="221.70" font-size="4.2" font-family="'Liberation Sans', sans-serif" text-anchor="start" fill="#2a2a2a" stroke="#2a2a2a" stroke-width="0.13" textLength="115.30" lengthAdjust="spacingAndGlyphs" >NDVI distribution in the 5201 working face of Shaqu No.1 mine in 2023</text>
<text x="533.90" y="227.60" font-size="7.1" font-family="'Liberation Sans', sans-serif" text-anchor="start" fill="#2e2e2e" stroke="#2e2e2e" stroke-width="0.03" textLength="7.00" lengthAdjust="spacingAndGlyphs" >(f)</text>
<line x1="387.90" y1="253.10" x2="391.50" y2="253.10" stroke="#4f8fe2" stroke-width="0.6"/>
<text x="391.60" y="254.50" font-size="4.8" font-family="'Liberation Sans', sans-serif" text-anchor="start" fill="#222" stroke="#222" stroke-width="0.08" textLength="24.40" lengthAdjust="spacingAndGlyphs" >average value:</text>
<text x="419.90" y="254.50" font-size="4.8" font-family="'Liberation Sans', sans-serif" text-anchor="start" fill="#222" stroke="#222" stroke-width="0.08" textLength="11.50" lengthAdjust="spacingAndGlyphs" >0.5084</text>
<text x="374.20" y="286.80" font-size="2.3" font-family="'Liberation Sans', sans-serif" text-anchor="end" fill="#444" stroke="#444" stroke-width="0.04" >0</text>
<text x="374.20" y="277.07" font-size="2.3" font-family="'Liberation Sans', sans-serif" text-anchor="end" fill="#444" stroke="#444" stroke-width="0.04" >5</text>
<text x="374.20" y="267.34" font-size="2.3" font-family="'Liberation Sans', sans-serif" text-anchor="end" fill="#444" stroke="#444" stroke-width="0.04" >10</text>
<text x="374.20" y="257.61" font-size="2.3" font-family="'Liberation Sans', sans-serif" text-anchor="end" fill="#444" stroke="#444" stroke-width="0.04" >15</text>
<text x="374.20" y="247.88" font-size="2.3" font-family="'Liberation Sans', sans-serif" text-anchor="end" fill="#444" stroke="#444" stroke-width="0.04" >20</text>
<text x="374.20" y="238.15" font-size="2.3" font-family="'Liberation Sans', sans-serif" text-anchor="end" fill="#444" stroke="#444" stroke-width="0.04" >25</text>
<text x="374.20" y="228.42" font-size="2.3" font-family="'Liberation Sans', sans-serif" text-anchor="end" fill="#444" stroke="#444" stroke-width="0.04" >30</text>
<text x="376.20" y="290.40" font-size="2.3" font-family="'Liberation Sans', sans-serif" text-anchor="middle" fill="#444" stroke="#444" stroke-width="0.04" >0.40</text>
<text x="390.24" y="290.40" font-size="2.3" font-family="'Liberation Sans', sans-serif" text-anchor="middle" fill="#444" stroke="#444" stroke-width="0.04" >0.41</text>
<text x="404.28" y="290.40" font-size="2.3" font-family="'Liberation Sans', sans-serif" text-anchor="middle" fill="#444" stroke="#444" stroke-width="0.04" >0.43</text>
<text x="418.32" y="290.40" font-size="2.3" font-family="'Liberation Sans', sans-serif" text-anchor="middle" fill="#444" stroke="#444" stroke-width="0.04" >0.44</text>
<text x="432.36" y="290.40" font-size="2.3" font-family="'Liberation Sans', sans-serif" text-anchor="middle" fill="#444" stroke="#444" stroke-width="0.04" >0.46</text>
<text x="446.40" y="290.40" font-size="2.3" font-family="'Liberation Sans', sans-serif" text-anchor="middle" fill="#444" stroke="#444" stroke-width="0.04" >0.47</text>
<text x="460.44" y="290.40" font-size="2.3" font-family="'Liberation Sans', sans-serif" text-anchor="middle" fill="#444" stroke="#444" stroke-width="0.04" >0.49</text>
<text x="474.48" y="290.40" font-size="2.3" font-family="'Liberation Sans', sans-serif" text-anchor="middle" fill="#444" stroke="#444" stroke-width="0.04" >0.50</text>
<text x="488.52" y="290.40" font-size="2.3" font-family="'Liberation Sans', sans-serif" text-anchor="middle" fill="#444" stroke="#444" stroke-width="0.04" >0.52</text>
<text x="502.56" y="290.40" font-size="2.3" font-family="'Liberation Sans', sans-serif" text-anchor="middle" fill="#444" stroke="#444" stroke-width="0.04" >0.53</text>
<text x="516.60" y="290.40" font-size="2.3" font-family="'Liberation Sans', sans-serif" text-anchor="middle" fill="#444" stroke="#444" stroke-width="0.04" >0.55</text>
<text x="530.64" y="290.40" font-size="2.3" font-family="'Liberation Sans', sans-serif" text-anchor="middle" fill="#444" stroke="#444" stroke-width="0.04" >0.56</text>
<text x="544.68" y="290.40" font-size="2.3" font-family="'Liberation Sans', sans-serif" text-anchor="middle" fill="#444" stroke="#444" stroke-width="0.04" >0.58</text>
<text transform="translate(369.00,257.00) rotate(-90)" font-size="2.9" font-family="'Liberation Sans', sans-serif" text-anchor="middle" fill="#444" textLength="8.6" lengthAdjust="spacingAndGlyphs">Count</text>
<text x="457.80" y="295.10" font-size="2.9" font-family="'Liberation Sans', sans-serif" text-anchor="start" fill="#444" textLength="5.60" lengthAdjust="spacingAndGlyphs" >NDVI</text>
<path d="M13.40 363.40 L13.40 356.10 L21.43 356.10 L21.43 345.50 L29.46 345.50 L29.46 346.80 L37.49 346.80 L37.49 339.60 L45.52 339.60 L45.52 338.50 L53.55 338.50 L53.55 312.40 L61.58 312.40 L61.58 322.00 L69.61 322.00 L69.61 329.00 L77.64 329.00 L77.64 307.30 L85.67 307.30 L85.67 319.00 L93.70 319.00 L93.70 309.90 L101.73 309.90 L101.73 323.20 L109.76 323.20 L109.76 323.20 L117.79 323.20 L117.79 335.80 L125.82 335.80 L125.82 352.70 L133.85 352.70 L133.85 349.10 L141.88 349.10 L141.88 351.30 L149.91 351.30 L149.91 361.20 L157.94 361.20 L157.94 362.50 L165.97 362.50 L165.97 362.50 L174.00 362.50 L174.00 361.20 L182.03 361.20 L182.03 363.40 Z" fill="#bddbed"/>
<line x1="21.43" y1="356.10" x2="21.43" y2="363.40" stroke="#a9cbe3" stroke-width="0.35"/>
<line x1="29.46" y1="346.80" x2="29.46" y2="363.40" stroke="#a9cbe3" stroke-width="0.35"/>
<line x1="37.49" y1="346.80" x2="37.49" y2="363.40" stroke="#a9cbe3" stroke-width="0.35"/>
<line x1="45.52" y1="339.60" x2="45.52" y2="363.40" stroke="#a9cbe3" stroke-width="0.35"/>
<line x1="53.55" y1="338.50" x2="53.55" y2="363.40" stroke="#a9cbe3" stroke-width="0.35"/>
<line x1="61.58" y1="322.00" x2="61.58" y2="363.40" stroke="#a9cbe3" stroke-width="0.35"/>
<line x1="69.61" y1="329.00" x2="69.61" y2="363.40" stroke="#a9cbe3" stroke-width="0.35"/>
<line x1="77.64" y1="329.00" x2="77.64" y2="363.40" stroke="#a9cbe3" stroke-width="0.35"/>
<line x1="85.67" y1="319.00" x2="85.67" y2="363.40" stroke="#a9cbe3" stroke-width="0.35"/>
<line x1="93.70" y1="319.00" x2="93.70" y2="363.40" stroke="#a9cbe3" stroke-width="0.35"/>
<line x1="101.73" y1="323.20" x2="101.73" y2="363.40" stroke="#a9cbe3" stroke-width="0.35"/>
<line x1="109.76" y1="323.20" x2="109.76" y2="363.40" stroke="#a9cbe3" stroke-width="0.35"/>
<line x1="117.79" y1="335.80" x2="117.79" y2="363.40" stroke="#a9cbe3" stroke-width="0.35"/>
<line x1="125.82" y1="352.70" x2="125.82" y2="363.40" stroke="#a9cbe3" stroke-width="0.35"/>
<line x1="133.85" y1="352.70" x2="133.85" y2="363.40" stroke="#a9cbe3" stroke-width="0.35"/>
<line x1="141.88" y1="351.30" x2="141.88" y2="363.40" stroke="#a9cbe3" stroke-width="0.35"/>
<line x1="149.91" y1="361.20" x2="149.91" y2="363.40" stroke="#a9cbe3" stroke-width="0.35"/>
<line x1="157.94" y1="362.50" x2="157.94" y2="363.40" stroke="#a9cbe3" stroke-width="0.35"/>
<line x1="165.97" y1="362.50" x2="165.97" y2="363.40" stroke="#a9cbe3" stroke-width="0.35"/>
<line x1="174.00" y1="362.50" x2="174.00" y2="363.40" stroke="#a9cbe3" stroke-width="0.35"/>
<line x1="13.20" y1="304.60" x2="13.20" y2="363.40" stroke="#9a9a9a" stroke-width="0.4"/>
<line x1="13.20" y1="363.40" x2="182.33" y2="363.40" stroke="#a9cbe2" stroke-width="0.4"/>
<line x1="83.70" y1="304.00" x2="83.70" y2="363.40" stroke="#6fa6ea" stroke-width="1.6500000000000001" stroke-opacity="0.9"/>
<text x="46.30" y="300.00" font-size="4.2" font-family="'Liberation Sans', sans-serif" text-anchor="start" fill="#2a2a2a" stroke="#2a2a2a" stroke-width="0.13" textLength="113.20" lengthAdjust="spacingAndGlyphs" >NDVI distribution in the 2404 working face of Shaqu No.1 mine in 2019</text>
<text x="173.30" y="305.40" font-size="7.1" font-family="'Liberation Sans', sans-serif" text-anchor="start" fill="#2e2e2e" stroke="#2e2e2e" stroke-width="0.03" textLength="7.40" lengthAdjust="spacingAndGlyphs" >(g)</text>
<line x1="134.00" y1="337.00" x2="137.60" y2="337.00" stroke="#4f8fe2" stroke-width="0.6"/>
<text x="137.70" y="338.40" font-size="4.8" font-family="'Liberation Sans', sans-serif" text-anchor="start" fill="#222" stroke="#222" stroke-width="0.08" textLength="24.40" lengthAdjust="spacingAndGlyphs" >average value:</text>
<text x="166.10" y="338.40" font-size="4.8" font-family="'Liberation Sans', sans-serif" text-anchor="start" fill="#222" stroke="#222" stroke-width="0.08" textLength="11.50" lengthAdjust="spacingAndGlyphs" >0.4579</text>
<text x="11.80" y="364.20" font-size="2.3" font-family="'Liberation Sans', sans-serif" text-anchor="end" fill="#444" stroke="#444" stroke-width="0.04" >0</text>
<text x="11.80" y="358.26" font-size="2.3" font-family="'Liberation Sans', sans-serif" text-anchor="end" fill="#444" stroke="#444" stroke-width="0.04" >5</text>
<text x="11.80" y="352.32" font-size="2.3" font-family="'Liberation Sans', sans-serif" text-anchor="end" fill="#444" stroke="#444" stroke-width="0.04" >10</text>
<text x="11.80" y="346.38" font-size="2.3" font-family="'Liberation Sans', sans-serif" text-anchor="end" fill="#444" stroke="#444" stroke-width="0.04" >15</text>
<text x="11.80" y="340.44" font-size="2.3" font-family="'Liberation Sans', sans-serif" text-anchor="end" fill="#444" stroke="#444" stroke-width="0.04" >20</text>
<text x="11.80" y="334.50" font-size="2.3" font-family="'Liberation Sans', sans-serif" text-anchor="end" fill="#444" stroke="#444" stroke-width="0.04" >25</text>
<text x="11.80" y="328.56" font-size="2.3" font-family="'Liberation Sans', sans-serif" text-anchor="end" fill="#444" stroke="#444" stroke-width="0.04" >30</text>
<text x="11.80" y="322.62" font-size="2.3" font-family="'Liberation Sans', sans-serif" text-anchor="end" fill="#444" stroke="#444" stroke-width="0.04" >35</text>
<text x="11.80" y="316.68" font-size="2.3" font-family="'Liberation Sans', sans-serif" text-anchor="end" fill="#444" stroke="#444" stroke-width="0.04" >40</text>
<text x="11.80" y="310.74" font-size="2.3" font-family="'Liberation Sans', sans-serif" text-anchor="end" fill="#444" stroke="#444" stroke-width="0.04" >45</text>
<text x="13.40" y="368.20" font-size="2.3" font-family="'Liberation Sans', sans-serif" text-anchor="middle" fill="#444" stroke="#444" stroke-width="0.04" >0.37</text>
<text x="21.43" y="368.20" font-size="2.3" font-family="'Liberation Sans', sans-serif" text-anchor="middle" fill="#444" stroke="#444" stroke-width="0.04" >0.38</text>
<text x="29.46" y="368.20" font-size="2.3" font-family="'Liberation Sans', sans-serif" text-anchor="middle" fill="#444" stroke="#444" stroke-width="0.04" >0.39</text>
<text x="37.49" y="368.20" font-size="2.3" font-family="'Liberation Sans', sans-serif" text-anchor="middle" fill="#444" stroke="#444" stroke-width="0.04" >0.40</text>
<text x="45.52" y="368.20" font-size="2.3" font-family="'Liberation Sans', sans-serif" text-anchor="middle" fill="#444" stroke="#444" stroke-width="0.04" >0.41</text>
<text x="53.55" y="368.20" font-size="2.3" font-family="'Liberation Sans', sans-serif" text-anchor="middle" fill="#444" stroke="#444" stroke-width="0.04" >0.42</text>
<text x="61.58" y="368.20" font-size="2.3" font-family="'Liberation Sans', sans-serif" text-anchor="middle" fill="#444" stroke="#444" stroke-width="0.04" >0.43</text>
<text x="69.61" y="368.20" font-size="2.3" font-family="'Liberation Sans', sans-serif" text-anchor="middle" fill="#444" stroke="#444" stroke-width="0.04" >0.44</text>
<text x="77.64" y="368.20" font-size="2.3" font-family="'Liberation Sans', sans-serif" text-anchor="middle" fill="#444" stroke="#444" stroke-width="0.04" >0.45</text>
<text x="85.67" y="368.20" font-size="2.3" font-family="'Liberation Sans', sans-serif" text-anchor="middle" fill="#444" stroke="#444" stroke-width="0.04" >0.46</text>
<text x="93.70" y="368.20" font-size="2.3" font-family="'Liberation Sans', sans-serif" text-anchor="middle" fill="#444" stroke="#444" stroke-width="0.04" >0.47</text>
<text x="101.73" y="368.20" font-size="2.3" font-family="'Liberation Sans', sans-serif" text-anchor="middle" fill="#444" stroke="#444" stroke-width="0.04" >0.48</text>
<text x="109.76" y="368.20" font-size="2.3" font-family="'Liberation Sans', sans-serif" text-anchor="middle" fill="#444" stroke="#444" stroke-width="0.04" >0.49</text>
<text x="117.79" y="368.20" font-size="2.3" font-family="'Liberation Sans', sans-serif" text-anchor="middle" fill="#444" stroke="#444" stroke-width="0.04" >0.50</text>
<text x="125.82" y="368.20" font-size="2.3" font-family="'Liberation Sans', sans-serif" text-anchor="middle" fill="#444" stroke="#444" stroke-width="0.04" >0.51</text>
<text x="133.85" y="368.20" font-size="2.3" font-family="'Liberation Sans', sans-serif" text-anchor="middle" fill="#444" stroke="#444" stroke-width="0.04" >0.52</text>
<text x="141.88" y="368.20" font-size="2.3" font-family="'Liberation Sans', sans-serif" text-anchor="middle" fill="#444" stroke="#444" stroke-width="0.04" >0.53</text>
<text x="149.91" y="368.20" font-size="2.3" font-family="'Liberation Sans', sans-serif" text-anchor="middle" fill="#444" stroke="#444" stroke-width="0.04" >0.54</text>
<text x="157.94" y="368.20" font-size="2.3" font-family="'Liberation Sans', sans-serif" text-anchor="middle" fill="#444" stroke="#444" stroke-width="0.04" >0.55</text>
<text x="165.97" y="368.20" font-size="2.3" font-family="'Liberation Sans', sans-serif" text-anchor="middle" fill="#444" stroke="#444" stroke-width="0.04" >0.56</text>
<text x="174.00" y="368.20" font-size="2.3" font-family="'Liberation Sans', sans-serif" text-anchor="middle" fill="#444" stroke="#444" stroke-width="0.04" >0.57</text>
<text x="182.03" y="368.20" font-size="2.3" font-family="'Liberation Sans', sans-serif" text-anchor="middle" fill="#444" stroke="#444" stroke-width="0.04" >0.58</text>
<text transform="translate(6.30,334.00) rotate(-90)" font-size="2.9" font-family="'Liberation Sans', sans-serif" text-anchor="middle" fill="#444" textLength="8.6" lengthAdjust="spacingAndGlyphs">Count</text>
<text x="93.90" y="372.80" font-size="2.9" font-family="'Liberation Sans', sans-serif" text-anchor="start" fill="#444" textLength="5.60" lengthAdjust="spacingAndGlyphs" >NDVI</text>
<path d="M194.60 363.40 L194.60 362.90 L202.67 362.90 L202.67 359.10 L210.73 359.10 L210.73 358.10 L218.80 358.10 L218.80 352.30 L226.87 352.30 L226.87 346.60 L234.94 346.60 L234.94 334.90 L243.00 334.90 L243.00 315.20 L251.07 315.20 L251.07 310.30 L259.14 310.30 L259.14 312.40 L267.20 312.40 L267.20 307.30 L275.27 307.30 L275.27 326.80 L283.34 326.80 L283.34 333.20 L291.40 333.20 L291.40 336.40 L299.47 336.40 L299.47 353.40 L307.54 353.40 L307.54 346.60 L315.61 346.60 L315.61 361.90 L323.67 361.90 L323.67 357.20 L331.74 357.20 L331.74 362.90 L339.81 362.90 L339.81 357.20 L347.87 357.20 L347.87 363.40 L355.94 363.40 L355.94 361.90 L364.01 361.90 L364.01 363.40 Z" fill="#bddbed"/>
<line x1="210.73" y1="359.10" x2="210.73" y2="363.40" stroke="#a9cbe3" stroke-width="0.35"/>
<line x1="218.80" y1="358.10" x2="218.80" y2="363.40" stroke="#a9cbe3" stroke-width="0.35"/>
<line x1="226.87" y1="352.30" x2="226.87" y2="363.40" stroke="#a9cbe3" stroke-width="0.35"/>
<line x1="234.94" y1="346.60" x2="234.94" y2="363.40" stroke="#a9cbe3" stroke-width="0.35"/>
<line x1="243.00" y1="334.90" x2="243.00" y2="363.40" stroke="#a9cbe3" stroke-width="0.35"/>
<line x1="251.07" y1="315.20" x2="251.07" y2="363.40" stroke="#a9cbe3" stroke-width="0.35"/>
<line x1="259.14" y1="312.40" x2="259.14" y2="363.40" stroke="#a9cbe3" stroke-width="0.35"/>
<line x1="267.20" y1="312.40" x2="267.20" y2="363.40" stroke="#a9cbe3" stroke-width="0.35"/>
<line x1="275.27" y1="326.80" x2="275.27" y2="363.40" stroke="#a9cbe3" stroke-width="0.35"/>
<line x1="283.34" y1="333.20" x2="283.34" y2="363.40" stroke="#a9cbe3" stroke-width="0.35"/>
<line x1="291.40" y1="336.40" x2="291.40" y2="363.40" stroke="#a9cbe3" stroke-width="0.35"/>
<line x1="299.47" y1="353.40" x2="299.47" y2="363.40" stroke="#a9cbe3" stroke-width="0.35"/>
<line x1="307.54" y1="353.40" x2="307.54" y2="363.40" stroke="#a9cbe3" stroke-width="0.35"/>
<line x1="315.61" y1="361.90" x2="315.61" y2="363.40" stroke="#a9cbe3" stroke-width="0.35"/>
<line x1="323.67" y1="361.90" x2="323.67" y2="363.40" stroke="#a9cbe3" stroke-width="0.35"/>
<line x1="194.20" y1="304.60" x2="194.20" y2="363.40" stroke="#9a9a9a" stroke-width="0.4"/>
<line x1="194.20" y1="363.40" x2="364.31" y2="363.40" stroke="#a9cbe2" stroke-width="0.4"/>
<line x1="267.20" y1="304.00" x2="267.20" y2="363.40" stroke="#6fa6ea" stroke-width="1.6500000000000001" stroke-opacity="0.9"/>
<text x="227.50" y="300.00" font-size="4.2" font-family="'Liberation Sans', sans-serif" text-anchor="start" fill="#2a2a2a" stroke="#2a2a2a" stroke-width="0.13" textLength="115.50" lengthAdjust="spacingAndGlyphs" >NDVI distribution in the 2404 working face of Shaqu No.1 mine in 2021</text>
<text x="353.00" y="305.40" font-size="7.1" font-family="'Liberation Sans', sans-serif" text-anchor="start" fill="#2e2e2e" stroke="#2e2e2e" stroke-width="0.03" textLength="7.60" lengthAdjust="spacingAndGlyphs" >(h)</text>
<line x1="313.90" y1="337.00" x2="317.50" y2="337.00" stroke="#4f8fe2" stroke-width="0.6"/>
<text x="317.60" y="338.40" font-size="4.8" font-family="'Liberation Sans', sans-serif" text-anchor="start" fill="#222" stroke="#222" stroke-width="0.08" textLength="24.40" lengthAdjust="spacingAndGlyphs" >average value:</text>
<text x="346.40" y="338.40" font-size="4.8" font-family="'Liberation Sans', sans-serif" text-anchor="start" fill="#222" stroke="#222" stroke-width="0.08" textLength="11.50" lengthAdjust="spacingAndGlyphs" >0.5077</text>
<text x="192.80" y="364.20" font-size="2.3" font-family="'Liberation Sans', sans-serif" text-anchor="end" fill="#444" stroke="#444" stroke-width="0.04" >0</text>
<text x="192.80" y="359.38" font-size="2.3" font-family="'Liberation Sans', sans-serif" text-anchor="end" fill="#444" stroke="#444" stroke-width="0.04" >5</text>
<text x="192.80" y="354.56" font-size="2.3" font-family="'Liberation Sans', sans-serif" text-anchor="end" fill="#444" stroke="#444" stroke-width="0.04" >10</text>
<text x="192.80" y="349.74" font-size="2.3" font-family="'Liberation Sans', sans-serif" text-anchor="end" fill="#444" stroke="#444" stroke-width="0.04" >15</text>
<text x="192.80" y="344.92" font-size="2.3" font-family="'Liberation Sans', sans-serif" text-anchor="end" fill="#444" stroke="#444" stroke-width="0.04" >20</text>
<text x="192.80" y="340.10" font-size="2.3" font-family="'Liberation Sans', sans-serif" text-anchor="end" fill="#444" stroke="#444" stroke-width="0.04" >25</text>
<text x="192.80" y="335.28" font-size="2.3" font-family="'Liberation Sans', sans-serif" text-anchor="end" fill="#444" stroke="#444" stroke-width="0.04" >30</text>
<text x="192.80" y="330.46" font-size="2.3" font-family="'Liberation Sans', sans-serif" text-anchor="end" fill="#444" stroke="#444" stroke-width="0.04" >35</text>
<text x="192.80" y="325.64" font-size="2.3" font-family="'Liberation Sans', sans-serif" text-anchor="end" fill="#444" stroke="#444" stroke-width="0.04" >40</text>
<text x="192.80" y="320.82" font-size="2.3" font-family="'Liberation Sans', sans-serif" text-anchor="end" fill="#444" stroke="#444" stroke-width="0.04" >45</text>
<text x="192.80" y="316.00" font-size="2.3" font-family="'Liberation Sans', sans-serif" text-anchor="end" fill="#444" stroke="#444" stroke-width="0.04" >50</text>
<text x="192.80" y="311.18" font-size="2.3" font-family="'Liberation Sans', sans-serif" text-anchor="end" fill="#444" stroke="#444" stroke-width="0.04" >55</text>
<text x="192.80" y="306.36" font-size="2.3" font-family="'Liberation Sans', sans-serif" text-anchor="end" fill="#444" stroke="#444" stroke-width="0.04" >60</text>
<text x="194.60" y="368.20" font-size="2.3" font-family="'Liberation Sans', sans-serif" text-anchor="middle" fill="#444" stroke="#444" stroke-width="0.04" >0.41</text>
<text x="202.67" y="368.20" font-size="2.3" font-family="'Liberation Sans', sans-serif" text-anchor="middle" fill="#444" stroke="#444" stroke-width="0.04" >0.42</text>
<text x="210.73" y="368.20" font-size="2.3" font-family="'Liberation Sans', sans-serif" text-anchor="middle" fill="#444" stroke="#444" stroke-width="0.04" >0.43</text>
<text x="218.80" y="368.20" font-size="2.3" font-family="'Liberation Sans', sans-serif" text-anchor="middle" fill="#444" stroke="#444" stroke-width="0.04" >0.44</text>
<text x="226.87" y="368.20" font-size="2.3" font-family="'Liberation Sans', sans-serif" text-anchor="middle" fill="#444" stroke="#444" stroke-width="0.04" >0.45</text>
<text x="234.94" y="368.20" font-size="2.3" font-family="'Liberation Sans', sans-serif" text-anchor="middle" fill="#444" stroke="#444" stroke-width="0.04" >0.46</text>
<text x="243.00" y="368.20" font-size="2.3" font-family="'Liberation Sans', sans-serif" text-anchor="middle" fill="#444" stroke="#444" stroke-width="0.04" >0.48</text>
<text x="251.07" y="368.20" font-size="2.3" font-family="'Liberation Sans', sans-serif" text-anchor="middle" fill="#444" stroke="#444" stroke-width="0.04" >0.49</text>
<text x="259.14" y="368.20" font-size="2.3" font-family="'Liberation Sans', sans-serif" text-anchor="middle" fill="#444" stroke="#444" stroke-width="0.04" >0.50</text>
<text x="267.20" y="368.20" font-size="2.3" font-family="'Liberation Sans', sans-serif" text-anchor="middle" fill="#444" stroke="#444" stroke-width="0.04" >0.51</text>
<text x="275.27" y="368.20" font-size="2.3" font-family="'Liberation Sans', sans-serif" text-anchor="middle" fill="#444" stroke="#444" stroke-width="0.04" >0.52</text>
<text x="283.34" y="368.20" font-size="2.3" font-family="'Liberation Sans', sans-serif" text-anchor="middle" fill="#444" stroke="#444" stroke-width="0.04" >0.53</text>
<text x="291.40" y="368.20" font-size="2.3" font-family="'Liberation Sans', sans-serif" text-anchor="middle" fill="#444" stroke="#444" stroke-width="0.04" >0.54</text>
<text x="299.47" y="368.20" font-size="2.3" font-family="'Liberation Sans', sans-serif" text-anchor="middle" fill="#444" stroke="#444" stroke-width="0.04" >0.55</text>
<text x="307.54" y="368.20" font-size="2.3" font-family="'Liberation Sans', sans-serif" text-anchor="middle" fill="#444" stroke="#444" stroke-width="0.04" >0.56</text>
<text x="315.61" y="368.20" font-size="2.3" font-family="'Liberation Sans', sans-serif" text-anchor="middle" fill="#444" stroke="#444" stroke-width="0.04" >0.57</text>
<text x="323.67" y="368.20" font-size="2.3" font-family="'Liberation Sans', sans-serif" text-anchor="middle" fill="#444" stroke="#444" stroke-width="0.04" >0.59</text>
<text x="331.74" y="368.20" font-size="2.3" font-family="'Liberation Sans', sans-serif" text-anchor="middle" fill="#444" stroke="#444" stroke-width="0.04" >0.60</text>
<text x="339.81" y="368.20" font-size="2.3" font-family="'Liberation Sans', sans-serif" text-anchor="middle" fill="#444" stroke="#444" stroke-width="0.04" >0.61</text>
<text x="347.87" y="368.20" font-size="2.3" font-family="'Liberation Sans', sans-serif" text-anchor="middle" fill="#444" stroke="#444" stroke-width="0.04" >0.62</text>
<text x="355.94" y="368.20" font-size="2.3" font-family="'Liberation Sans', sans-serif" text-anchor="middle" fill="#444" stroke="#444" stroke-width="0.04" >0.63</text>
<text x="364.01" y="368.20" font-size="2.3" font-family="'Liberation Sans', sans-serif" text-anchor="middle" fill="#444" stroke="#444" stroke-width="0.04" >0.64</text>
<text transform="translate(187.40,334.00) rotate(-90)" font-size="2.9" font-family="'Liberation Sans', sans-serif" text-anchor="middle" fill="#444" textLength="8.6" lengthAdjust="spacingAndGlyphs">Count</text>
<text x="275.40" y="372.80" font-size="2.9" font-family="'Liberation Sans', sans-serif" text-anchor="start" fill="#444" textLength="5.60" lengthAdjust="spacingAndGlyphs" >NDVI</text>
<path d="M376.40 363.60 L376.40 362.90 L384.42 362.90 L384.42 363.60 L392.45 363.60 L392.45 358.70 L400.47 358.70 L400.47 362.90 L408.50 362.90 L408.50 346.00 L416.52 346.00 L416.52 347.00 L424.54 347.00 L424.54 333.20 L432.57 333.20 L432.57 327.90 L440.59 327.90 L440.59 315.80 L448.62 315.80 L448.62 307.10 L456.64 307.10 L456.64 310.90 L464.66 310.90 L464.66 333.20 L472.69 333.20 L472.69 338.90 L480.71 338.90 L480.71 359.10 L488.74 359.10 L488.74 353.40 L496.76 353.40 L496.76 357.60 L504.78 357.60 L504.78 360.20 L512.81 360.20 L512.81 359.10 L520.83 359.10 L520.83 361.50 L528.86 361.50 L528.86 362.50 L536.88 362.50 L536.88 363.20 L544.90 363.20 L544.90 363.60 Z" fill="#bddbed"/>
<line x1="400.47" y1="362.90" x2="400.47" y2="363.60" stroke="#a9cbe3" stroke-width="0.35"/>
<line x1="408.50" y1="362.90" x2="408.50" y2="363.60" stroke="#a9cbe3" stroke-width="0.35"/>
<line x1="416.52" y1="347.00" x2="416.52" y2="363.60" stroke="#a9cbe3" stroke-width="0.35"/>
<line x1="424.54" y1="347.00" x2="424.54" y2="363.60" stroke="#a9cbe3" stroke-width="0.35"/>
<line x1="432.57" y1="333.20" x2="432.57" y2="363.60" stroke="#a9cbe3" stroke-width="0.35"/>
<line x1="440.59" y1="327.90" x2="440.59" y2="363.60" stroke="#a9cbe3" stroke-width="0.35"/>
<line x1="448.62" y1="315.80" x2="448.62" y2="363.60" stroke="#a9cbe3" stroke-width="0.35"/>
<line x1="456.64" y1="310.90" x2="456.64" y2="363.60" stroke="#a9cbe3" stroke-width="0.35"/>
<line x1="464.66" y1="333.20" x2="464.66" y2="363.60" stroke="#a9cbe3" stroke-width="0.35"/>
<line x1="472.69" y1="338.90" x2="472.69" y2="363.60" stroke="#a9cbe3" stroke-width="0.35"/>
<line x1="480.71" y1="359.10" x2="480.71" y2="363.60" stroke="#a9cbe3" stroke-width="0.35"/>
<line x1="488.74" y1="359.10" x2="488.74" y2="363.60" stroke="#a9cbe3" stroke-width="0.35"/>
<line x1="496.76" y1="357.60" x2="496.76" y2="363.60" stroke="#a9cbe3" stroke-width="0.35"/>
<line x1="504.78" y1="360.20" x2="504.78" y2="363.60" stroke="#a9cbe3" stroke-width="0.35"/>
<line x1="512.81" y1="360.20" x2="512.81" y2="363.60" stroke="#a9cbe3" stroke-width="0.35"/>
<line x1="520.83" y1="361.50" x2="520.83" y2="363.60" stroke="#a9cbe3" stroke-width="0.35"/>
<line x1="528.86" y1="362.50" x2="528.86" y2="363.60" stroke="#a9cbe3" stroke-width="0.35"/>
<line x1="376.00" y1="304.60" x2="376.00" y2="363.60" stroke="#9a9a9a" stroke-width="0.4"/>
<line x1="376.00" y1="363.60" x2="545.20" y2="363.60" stroke="#a9cbe2" stroke-width="0.4"/>
<line x1="452.60" y1="304.00" x2="452.60" y2="363.60" stroke="#6fa6ea" stroke-width="2.1500000000000004" stroke-opacity="0.74"/>
<text x="409.00" y="300.00" font-size="4.2" font-family="'Liberation Sans', sans-serif" text-anchor="start" fill="#2a2a2a" stroke="#2a2a2a" stroke-width="0.13" textLength="115.30" lengthAdjust="spacingAndGlyphs" >NDVI distribution in the 2404 working face of Shaqu No.1 mine in 2023</text>
<text x="534.30" y="305.40" font-size="7.1" font-family="'Liberation Sans', sans-serif" text-anchor="start" fill="#2e2e2e" stroke="#2e2e2e" stroke-width="0.03" textLength="5.90" lengthAdjust="spacingAndGlyphs" >(i)</text>
<line x1="490.80" y1="336.90" x2="494.20" y2="336.90" stroke="#4f8fe2" stroke-width="0.6"/>
<text x="494.30" y="338.30" font-size="4.8" font-family="'Liberation Sans', sans-serif" text-anchor="start" fill="#222" stroke="#222" stroke-width="0.08" textLength="24.40" lengthAdjust="spacingAndGlyphs" >average value:</text>
<text x="523.40" y="338.30" font-size="4.8" font-family="'Liberation Sans', sans-serif" text-anchor="start" fill="#222" stroke="#222" stroke-width="0.08" textLength="11.50" lengthAdjust="spacingAndGlyphs" >0.5330</text>
<text x="374.60" y="364.40" font-size="2.3" font-family="'Liberation Sans', sans-serif" text-anchor="end" fill="#444" stroke="#444" stroke-width="0.04" >0</text>
<text x="374.60" y="356.33" font-size="2.3" font-family="'Liberation Sans', sans-serif" text-anchor="end" fill="#444" stroke="#444" stroke-width="0.04" >10</text>
<text x="374.60" y="348.26" font-size="2.3" font-family="'Liberation Sans', sans-serif" text-anchor="end" fill="#444" stroke="#444" stroke-width="0.04" >20</text>
<text x="374.60" y="340.19" font-size="2.3" font-family="'Liberation Sans', sans-serif" text-anchor="end" fill="#444" stroke="#444" stroke-width="0.04" >30</text>
<text x="374.60" y="332.12" font-size="2.3" font-family="'Liberation Sans', sans-serif" text-anchor="end" fill="#444" stroke="#444" stroke-width="0.04" >40</text>
<text x="374.60" y="324.05" font-size="2.3" font-family="'Liberation Sans', sans-serif" text-anchor="end" fill="#444" stroke="#444" stroke-width="0.04" >50</text>
<text x="374.60" y="315.98" font-size="2.3" font-family="'Liberation Sans', sans-serif" text-anchor="end" fill="#444" stroke="#444" stroke-width="0.04" >60</text>
<text x="374.60" y="307.91" font-size="2.3" font-family="'Liberation Sans', sans-serif" text-anchor="end" fill="#444" stroke="#444" stroke-width="0.04" >70</text>
<text x="376.40" y="368.40" font-size="2.3" font-family="'Liberation Sans', sans-serif" text-anchor="middle" fill="#444" stroke="#444" stroke-width="0.04" >0.43</text>
<text x="384.42" y="368.40" font-size="2.3" font-family="'Liberation Sans', sans-serif" text-anchor="middle" fill="#444" stroke="#444" stroke-width="0.04" >0.44</text>
<text x="392.45" y="368.40" font-size="2.3" font-family="'Liberation Sans', sans-serif" text-anchor="middle" fill="#444" stroke="#444" stroke-width="0.04" >0.45</text>
<text x="400.47" y="368.40" font-size="2.3" font-family="'Liberation Sans', sans-serif" text-anchor="middle" fill="#444" stroke="#444" stroke-width="0.04" >0.46</text>
<text x="408.50" y="368.40" font-size="2.3" font-family="'Liberation Sans', sans-serif" text-anchor="middle" fill="#444" stroke="#444" stroke-width="0.04" >0.47</text>
<text x="416.52" y="368.40" font-size="2.3" font-family="'Liberation Sans', sans-serif" text-anchor="middle" fill="#444" stroke="#444" stroke-width="0.04" >0.48</text>
<text x="424.54" y="368.40" font-size="2.3" font-family="'Liberation Sans', sans-serif" text-anchor="middle" fill="#444" stroke="#444" stroke-width="0.04" >0.49</text>
<text x="432.57" y="368.40" font-size="2.3" font-family="'Liberation Sans', sans-serif" text-anchor="middle" fill="#444" stroke="#444" stroke-width="0.04" >0.51</text>
<text x="440.59" y="368.40" font-size="2.3" font-family="'Liberation Sans', sans-serif" text-anchor="middle" fill="#444" stroke="#444" stroke-width="0.04" >0.52</text>
<text x="448.62" y="368.40" font-size="2.3" font-family="'Liberation Sans', sans-serif" text-anchor="middle" fill="#444" stroke="#444" stroke-width="0.04" >0.53</text>
<text x="456.64" y="368.40" font-size="2.3" font-family="'Liberation Sans', sans-serif" text-anchor="middle" fill="#444" stroke="#444" stroke-width="0.04" >0.54</text>
<text x="464.66" y="368.40" font-size="2.3" font-family="'Liberation Sans', sans-serif" text-anchor="middle" fill="#444" stroke="#444" stroke-width="0.04" >0.55</text>
<text x="472.69" y="368.40" font-size="2.3" font-family="'Liberation Sans', sans-serif" text-anchor="middle" fill="#444" stroke="#444" stroke-width="0.04" >0.56</text>
<text x="480.71" y="368.40" font-size="2.3" font-family="'Liberation Sans', sans-serif" text-anchor="middle" fill="#444" stroke="#444" stroke-width="0.04" >0.57</text>
<text x="488.74" y="368.40" font-size="2.3" font-family="'Liberation Sans', sans-serif" text-anchor="middle" fill="#444" stroke="#444" stroke-width="0.04" >0.58</text>
<text x="496.76" y="368.40" font-size="2.3" font-family="'Liberation Sans', sans-serif" text-anchor="middle" fill="#444" stroke="#444" stroke-width="0.04" >0.59</text>
<text x="504.78" y="368.40" font-size="2.3" font-family="'Liberation Sans', sans-serif" text-anchor="middle" fill="#444" stroke="#444" stroke-width="0.04" >0.60</text>
<text x="512.81" y="368.40" font-size="2.3" font-family="'Liberation Sans', sans-serif" text-anchor="middle" fill="#444" stroke="#444" stroke-width="0.04" >0.61</text>
<text x="520.83" y="368.40" font-size="2.3" font-family="'Liberation Sans', sans-serif" text-anchor="middle" fill="#444" stroke="#444" stroke-width="0.04" >0.62</text>
<text x="528.86" y="368.40" font-size="2.3" font-family="'Liberation Sans', sans-serif" text-anchor="middle" fill="#444" stroke="#444" stroke-width="0.04" >0.64</text>
<text x="536.88" y="368.40" font-size="2.3" font-family="'Liberation Sans', sans-serif" text-anchor="middle" fill="#444" stroke="#444" stroke-width="0.04" >0.65</text>
<text x="544.90" y="368.40" font-size="2.3" font-family="'Liberation Sans', sans-serif" text-anchor="middle" fill="#444" stroke="#444" stroke-width="0.04" >0.66</text>
<text transform="translate(369.00,334.00) rotate(-90)" font-size="2.9" font-family="'Liberation Sans', sans-serif" text-anchor="middle" fill="#444" textLength="8.6" lengthAdjust="spacingAndGlyphs">Count</text>
<text x="458.60" y="372.80" font-size="2.9" font-family="'Liberation Sans', sans-serif" text-anchor="start" fill="#444" textLength="5.60" lengthAdjust="spacingAndGlyphs" >NDVI</text>
</svg>
</body></html>
